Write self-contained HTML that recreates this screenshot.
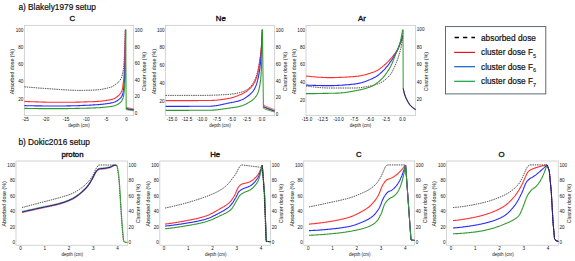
<!DOCTYPE html>
<html><head><meta charset="utf-8">
<style>
html,body{margin:0;padding:0;background:#fff;}
body{width:575px;height:261px;overflow:hidden;}
svg{display:block;font-family:"Liberation Sans", sans-serif;}
</style></head>
<body>
<svg width="575" height="261" viewBox="0 0 575 261">
<rect width="575" height="261" fill="#fff"/>
<text x="18.4" y="9.9" font-size="8.3" text-anchor="start" font-weight="normal" fill="#111" stroke="#111" stroke-width="0.2">a) Blakely1979 setup</text>
<text x="18.4" y="144.5" font-size="8.3" text-anchor="start" font-weight="normal" fill="#111" stroke="#111" stroke-width="0.2">b) Dokic2016 setup</text>
<rect x="24.4" y="25.4" width="109.19999999999999" height="90.19999999999999" fill="none" stroke="#cfcfcf" stroke-width="0.9"/>
<text x="72.2" y="21.2" font-size="7.8" text-anchor="middle" font-weight="normal" fill="#111" stroke="#111" stroke-width="0.35">C</text>
<text x="23.4" y="31.6" font-size="4.6" text-anchor="end" font-weight="normal" fill="#111">100</text>
<text x="23.4" y="48.6" font-size="4.6" text-anchor="end" font-weight="normal" fill="#111">80</text>
<text x="23.4" y="65.89999999999999" font-size="4.6" text-anchor="end" font-weight="normal" fill="#111">60</text>
<text x="23.4" y="83.3" font-size="4.6" text-anchor="end" font-weight="normal" fill="#111">40</text>
<text x="23.4" y="100.6" font-size="4.6" text-anchor="end" font-weight="normal" fill="#111">20</text>
<text x="134.79999999999998" y="31.900000000000002" font-size="4.6" text-anchor="start" font-weight="normal" fill="#111">100</text>
<text x="134.79999999999998" y="48.5" font-size="4.6" text-anchor="start" font-weight="normal" fill="#111">80</text>
<text x="134.79999999999998" y="65.1" font-size="4.6" text-anchor="start" font-weight="normal" fill="#111">60</text>
<text x="134.79999999999998" y="81.6" font-size="4.6" text-anchor="start" font-weight="normal" fill="#111">40</text>
<text x="134.79999999999998" y="98.39999999999999" font-size="4.6" text-anchor="start" font-weight="normal" fill="#111">20</text>
<text x="134.79999999999998" y="114.89999999999999" font-size="4.6" text-anchor="start" font-weight="normal" fill="#111">0</text>
<text x="25.6" y="121.19999999999999" font-size="4.6" text-anchor="middle" font-weight="normal" fill="#111">-25</text>
<text x="45.9" y="121.19999999999999" font-size="4.6" text-anchor="middle" font-weight="normal" fill="#111">-20</text>
<text x="66.1" y="121.19999999999999" font-size="4.6" text-anchor="middle" font-weight="normal" fill="#111">-15</text>
<text x="86.3" y="121.19999999999999" font-size="4.6" text-anchor="middle" font-weight="normal" fill="#111">-10</text>
<text x="106.4" y="121.19999999999999" font-size="4.6" text-anchor="middle" font-weight="normal" fill="#111">-5</text>
<text x="126.5" y="121.19999999999999" font-size="4.6" text-anchor="middle" font-weight="normal" fill="#111">0</text>
<text x="79.0" y="126.6" font-size="4.5" text-anchor="middle" font-weight="normal" fill="#111">depth (cm)</text>
<text x="14.499999999999998" y="71.6" font-size="5.3" text-anchor="middle" font-weight="normal" fill="#111" transform="rotate(-90 14.499999999999998 71.6)">Absorbed dose (%)</text>
<text x="146.0" y="71.6" font-size="5.3" text-anchor="middle" font-weight="normal" fill="#111" transform="rotate(-90 146.0 71.6)">Cluster dose (%)</text>
<path d="M24.4,86.8 25.0,86.9 25.6,86.9 26.2,87.0 26.8,87.0 27.4,87.1 28.1,87.1 28.7,87.2 29.3,87.2 29.9,87.3 30.5,87.3 31.1,87.4 31.7,87.4 32.3,87.5 32.9,87.5 33.5,87.6 34.2,87.6 34.8,87.7 35.4,87.7 36.0,87.8 36.6,87.8 37.2,87.9 37.8,87.9 38.4,88.0 39.0,88.0 39.6,88.1 40.2,88.1 40.9,88.2 41.5,88.2 42.1,88.3 42.7,88.3 43.3,88.3 43.9,88.4 44.5,88.4 45.1,88.5 45.7,88.5 46.3,88.6 47.0,88.6 47.6,88.6 48.2,88.7 48.8,88.7 49.4,88.8 50.0,88.8 50.6,88.8 51.2,88.9 51.8,88.9 52.4,89.0 53.0,89.0 53.6,89.0 54.2,89.1 54.8,89.1 55.4,89.2 56.0,89.2 56.6,89.3 57.2,89.3 57.8,89.3 58.4,89.4 59.0,89.4 59.6,89.5 60.2,89.5 60.8,89.6 61.4,89.6 62.0,89.6 62.6,89.7 63.2,89.7 63.8,89.8 64.4,89.8 65.0,89.8 65.6,89.9 66.2,89.9 66.8,90.0 67.4,90.0 68.0,90.0 68.6,90.1 69.2,90.1 69.8,90.1 70.4,90.1 71.0,90.2 71.6,90.2 72.2,90.2 72.8,90.3 73.4,90.3 74.0,90.3 74.6,90.3 75.2,90.3 75.8,90.3 76.4,90.4 77.0,90.4 77.6,90.4 78.2,90.4 78.8,90.4 79.4,90.4 80.0,90.4 80.6,90.4 81.2,90.4 81.8,90.4 82.4,90.4 83.0,90.4 83.6,90.4 84.2,90.4 84.8,90.4 85.4,90.3 86.0,90.3 86.6,90.3 87.2,90.3 87.8,90.3 88.4,90.3 89.0,90.2 89.6,90.2 90.2,90.2 90.8,90.2 91.4,90.2 92.0,90.1 92.6,90.1 93.2,90.1 93.8,90.1 94.4,90.0 95.0,90.0 95.6,90.0 96.2,89.9 96.8,89.9 97.4,89.8 98.0,89.8 98.6,89.7 99.2,89.6 99.8,89.6 100.4,89.5 101.0,89.4 101.6,89.3 102.2,89.2 102.8,89.1 103.4,89.0 104.0,88.9 104.6,88.7 105.2,88.6 105.8,88.5 106.4,88.3 107.0,88.2 107.6,88.0 108.2,87.9 108.8,87.7 109.4,87.6 110.0,87.4 110.6,87.2 111.3,87.0 111.9,86.7 112.5,86.3 113.2,86.0 113.8,85.6 114.5,85.2 115.1,84.7 115.7,84.3 116.4,83.8 117.0,83.3 117.7,82.8 118.3,82.2 119.0,81.5 119.7,80.7 120.3,79.8 121.0,78.7 121.5,77.6 121.8,76.9 122.0,76.1 122.2,75.2 122.5,74.2 122.8,73.1 123.0,71.8 123.1,71.1 123.2,70.2 123.4,69.3 123.5,68.2 123.6,67.4 123.7,66.5 123.8,65.6 123.8,64.7 123.9,63.7 124.0,62.6 124.1,61.6 124.1,60.6 124.2,59.3 124.2,58.4 124.3,57.3 124.4,56.2 124.4,55.1 124.4,54.1 124.5,53.2 124.5,52.2 124.6,51.2 124.6,50.2 124.6,49.2 124.7,48.1 124.7,47.1 124.8,46.0 124.8,45.0 124.8,43.9 124.9,42.8 124.9,41.6 125.0,40.7 125.0,39.7 125.0,38.8 125.0,37.8 125.1,36.8 125.1,35.8 125.1,34.8 125.2,33.8 125.2,32.8 125.2,31.7 125.3,30.7 125.3,29.6" fill="none" stroke="#1a1a1a" stroke-width="0.85" stroke-dasharray="1.4,0.9" stroke-linejoin="round"/>
<path d="M24.4,101.4 25.0,101.4 25.6,101.5 26.2,101.5 26.8,101.5 27.4,101.5 28.0,101.6 28.6,101.6 29.2,101.6 29.8,101.6 30.4,101.7 31.0,101.7 31.6,101.7 32.2,101.7 32.8,101.8 33.5,101.8 34.1,101.8 34.7,101.8 35.3,101.9 35.9,101.9 36.5,101.9 37.1,101.9 37.7,101.9 38.3,102.0 38.9,102.0 39.5,102.0 40.1,102.0 40.7,102.0 41.3,102.0 41.9,102.1 42.5,102.1 43.1,102.1 43.7,102.1 44.3,102.1 44.9,102.1 45.5,102.1 46.1,102.2 46.7,102.2 47.3,102.2 47.9,102.2 48.5,102.2 49.1,102.2 49.7,102.2 50.3,102.2 50.9,102.2 51.6,102.2 52.2,102.3 52.8,102.3 53.4,102.3 54.0,102.3 54.6,102.3 55.2,102.3 55.8,102.3 56.4,102.3 57.0,102.3 57.6,102.3 58.2,102.3 58.8,102.3 59.4,102.3 60.0,102.3 60.6,102.3 61.2,102.3 61.8,102.3 62.4,102.3 63.0,102.3 63.6,102.3 64.2,102.3 64.8,102.3 65.4,102.3 66.0,102.3 66.6,102.3 67.2,102.3 67.8,102.3 68.5,102.3 69.1,102.2 69.7,102.2 70.3,102.2 70.9,102.2 71.5,102.2 72.1,102.2 72.7,102.2 73.3,102.2 73.9,102.2 74.5,102.2 75.1,102.2 75.7,102.1 76.3,102.1 76.9,102.1 77.5,102.1 78.1,102.1 78.7,102.1 79.3,102.1 79.9,102.1 80.5,102.0 81.1,102.0 81.7,102.0 82.3,102.0 82.9,102.0 83.5,102.0 84.2,101.9 84.8,101.9 85.4,101.9 86.0,101.9 86.6,101.9 87.2,101.9 87.8,101.8 88.4,101.8 89.0,101.8 89.6,101.8 90.2,101.8 90.8,101.7 91.4,101.7 92.0,101.7 92.6,101.7 93.2,101.7 93.8,101.6 94.4,101.6 95.0,101.6 95.6,101.5 96.2,101.5 96.8,101.5 97.5,101.4 98.1,101.4 98.7,101.3 99.3,101.3 99.9,101.2 100.5,101.2 101.1,101.1 101.7,101.0 102.3,101.0 102.9,100.9 103.5,100.8 104.1,100.8 104.7,100.7 105.3,100.6 105.9,100.5 106.5,100.4 107.2,100.3 107.8,100.2 108.4,100.1 109.0,100.0 109.6,99.9 110.2,99.8 110.8,99.7 111.4,99.5 112.0,99.4 112.6,99.2 113.2,99.0 113.8,98.8 114.4,98.5 115.0,98.2 115.6,97.8 116.2,97.4 116.8,97.0 117.4,96.5 118.0,96.0 118.7,95.4 119.3,94.8 120.0,94.0 120.7,93.0 121.0,92.4 121.3,91.7 121.7,91.0 122.0,90.2 122.2,89.6 122.4,88.8 122.6,87.9 122.8,86.8 122.9,85.9 123.0,85.0 123.1,84.1 123.2,83.1 123.4,82.1 123.5,81.0 123.6,80.2 123.7,79.4 123.8,78.6 123.8,77.6 123.9,76.6 124.0,75.5 124.1,74.7 124.1,73.7 124.2,72.8 124.2,71.7 124.3,70.6 124.4,69.5 124.4,68.3 124.5,67.0 124.5,66.2 124.6,65.2 124.6,64.1 124.7,63.0 124.7,62.0 124.7,61.0 124.7,59.9 124.8,58.8 124.8,57.6 124.8,56.7 124.8,55.7 124.9,54.6 124.9,53.6 124.9,52.5 124.9,51.5 125.0,50.4 125.0,49.3 125.0,48.2 125.0,47.2 125.1,46.1 125.1,45.0 125.1,43.9 125.1,42.8 125.2,41.6 125.2,40.7 125.2,39.8 125.2,38.9 125.2,37.9 125.3,37.0 125.3,36.0 125.3,35.0 125.3,34.0 125.3,33.0 125.4,32.0 125.4,31.0 125.4,30.0" fill="none" stroke="#ff3030" stroke-width="1.1" stroke-linejoin="round"/>
<path d="M24.4,105.6 25.0,105.6 25.6,105.6 26.2,105.7 26.8,105.7 27.4,105.7 28.0,105.7 28.6,105.7 29.2,105.7 29.8,105.8 30.4,105.8 31.0,105.8 31.6,105.8 32.2,105.8 32.8,105.8 33.5,105.8 34.1,105.8 34.7,105.9 35.3,105.9 35.9,105.9 36.5,105.9 37.1,105.9 37.7,105.9 38.3,105.9 38.9,105.9 39.5,105.9 40.1,105.9 40.7,105.9 41.3,105.9 41.9,105.9 42.5,106.0 43.1,106.0 43.7,106.0 44.3,106.0 44.9,106.0 45.5,106.0 46.1,106.0 46.7,106.0 47.3,106.0 47.9,106.0 48.5,106.0 49.1,106.0 49.7,106.0 50.3,106.0 50.9,106.0 51.6,106.0 52.2,106.0 52.8,106.0 53.4,106.0 54.0,106.0 54.6,106.0 55.2,106.0 55.8,106.0 56.4,106.0 57.0,106.0 57.6,106.0 58.2,106.0 58.8,106.0 59.4,106.0 60.0,106.0 60.6,106.0 61.2,106.0 61.8,106.0 62.4,106.0 63.0,106.0 63.6,106.0 64.2,106.0 64.8,106.0 65.4,106.0 66.0,106.0 66.6,105.9 67.2,105.9 67.8,105.9 68.5,105.9 69.1,105.9 69.7,105.9 70.3,105.9 70.9,105.9 71.5,105.8 72.1,105.8 72.7,105.8 73.3,105.8 73.9,105.8 74.5,105.8 75.1,105.7 75.7,105.7 76.3,105.7 76.9,105.7 77.5,105.7 78.1,105.6 78.7,105.6 79.3,105.6 79.9,105.6 80.5,105.5 81.1,105.5 81.7,105.5 82.3,105.5 82.9,105.4 83.5,105.4 84.2,105.4 84.8,105.4 85.4,105.3 86.0,105.3 86.6,105.3 87.2,105.2 87.8,105.2 88.4,105.2 89.0,105.2 89.6,105.1 90.2,105.1 90.8,105.1 91.4,105.0 92.0,105.0 92.6,105.0 93.2,104.9 93.8,104.9 94.4,104.9 95.0,104.8 95.6,104.8 96.2,104.8 96.8,104.7 97.5,104.7 98.1,104.6 98.7,104.6 99.3,104.5 99.9,104.5 100.5,104.4 101.1,104.4 101.7,104.3 102.3,104.2 102.9,104.2 103.5,104.1 104.1,104.0 104.7,104.0 105.3,103.9 105.9,103.8 106.5,103.7 107.2,103.6 107.8,103.5 108.4,103.5 109.0,103.4 109.6,103.2 110.2,103.1 110.8,103.0 111.4,102.9 112.0,102.8 112.6,102.7 113.3,102.5 113.9,102.3 114.5,102.0 115.2,101.7 115.8,101.4 116.5,101.1 117.1,100.7 117.7,100.3 118.4,99.9 119.0,99.4 119.7,98.9 120.4,98.2 121.1,97.4 121.8,96.3 122.2,95.6 122.5,94.8 122.7,94.3 122.9,93.5 123.1,92.6 123.2,91.5 123.4,90.6 123.5,89.8 123.6,88.8 123.8,87.8 123.9,86.7 124.0,85.6 124.1,84.8 124.2,84.0 124.2,83.1 124.3,82.1 124.4,81.1 124.5,79.9 124.6,78.9 124.6,77.9 124.7,76.7 124.8,75.5 124.8,74.4 124.8,73.3 124.9,72.1 125.0,70.9 125.0,69.5 125.0,68.8 125.0,67.9 125.1,66.9 125.1,65.9 125.1,65.0 125.1,64.0 125.2,62.9 125.2,61.8 125.2,60.6 125.2,59.6 125.2,58.5 125.2,57.3 125.3,56.2 125.3,54.9 125.3,53.6 125.3,52.7 125.3,51.6 125.3,50.6 125.4,49.5 125.4,48.4 125.4,47.3 125.4,46.2 125.4,45.0 125.4,44.1 125.4,43.2 125.4,42.1 125.4,41.2 125.4,40.3 125.4,39.4 125.5,38.4 125.5,37.4 125.5,36.4 125.5,35.3 125.5,34.3 125.5,33.2 125.5,32.1 125.5,31.1 125.5,30.0" fill="none" stroke="#2a2aff" stroke-width="1.1" stroke-linejoin="round"/>
<path d="M24.4,108.4 25.0,108.4 25.6,108.4 26.2,108.4 26.8,108.4 27.4,108.4 28.0,108.5 28.6,108.5 29.2,108.5 29.8,108.5 30.4,108.5 31.0,108.5 31.6,108.5 32.2,108.5 32.8,108.5 33.5,108.5 34.1,108.5 34.7,108.5 35.3,108.5 35.9,108.5 36.5,108.5 37.1,108.5 37.7,108.6 38.3,108.6 38.9,108.6 39.5,108.6 40.1,108.6 40.7,108.6 41.3,108.6 41.9,108.6 42.5,108.6 43.1,108.6 43.7,108.6 44.3,108.6 44.9,108.6 45.5,108.6 46.1,108.6 46.7,108.6 47.3,108.6 47.9,108.6 48.5,108.6 49.1,108.6 49.7,108.6 50.3,108.6 50.9,108.6 51.6,108.6 52.2,108.6 52.8,108.6 53.4,108.6 54.0,108.6 54.6,108.6 55.2,108.6 55.8,108.6 56.4,108.6 57.0,108.6 57.6,108.6 58.2,108.6 58.8,108.6 59.4,108.6 60.0,108.6 60.6,108.6 61.2,108.6 61.8,108.6 62.4,108.6 63.0,108.6 63.6,108.6 64.2,108.6 64.8,108.6 65.4,108.6 66.0,108.6 66.6,108.6 67.2,108.6 67.8,108.6 68.5,108.5 69.1,108.5 69.7,108.5 70.3,108.5 70.9,108.5 71.5,108.5 72.1,108.5 72.7,108.5 73.3,108.5 73.9,108.5 74.5,108.5 75.1,108.4 75.7,108.4 76.3,108.4 76.9,108.4 77.5,108.4 78.1,108.4 78.7,108.4 79.3,108.4 79.9,108.3 80.5,108.3 81.1,108.3 81.7,108.3 82.3,108.3 82.9,108.3 83.5,108.3 84.2,108.2 84.8,108.2 85.4,108.2 86.0,108.2 86.6,108.2 87.2,108.1 87.8,108.1 88.4,108.1 89.0,108.1 89.6,108.1 90.2,108.1 90.8,108.0 91.4,108.0 92.0,108.0 92.6,108.0 93.2,108.0 93.8,107.9 94.4,107.9 95.0,107.9 95.6,107.9 96.2,107.8 96.8,107.8 97.5,107.8 98.1,107.7 98.7,107.7 99.3,107.7 99.9,107.6 100.5,107.6 101.1,107.5 101.7,107.5 102.3,107.4 102.9,107.4 103.5,107.3 104.1,107.3 104.7,107.2 105.3,107.2 105.9,107.1 106.5,107.0 107.2,107.0 107.8,106.9 108.4,106.8 109.0,106.7 109.6,106.7 110.2,106.6 110.8,106.5 111.4,106.4 112.0,106.3 112.6,106.2 113.2,106.1 113.8,105.9 114.5,105.7 115.1,105.5 115.7,105.3 116.3,105.0 116.9,104.7 117.5,104.4 118.2,104.0 118.8,103.7 119.4,103.2 120.0,102.8 120.6,102.3 121.2,101.6 121.8,100.7 122.4,99.5 122.7,98.8 123.0,98.0 123.2,97.4 123.4,96.6 123.6,95.6 123.8,94.5 123.9,93.6 124.0,92.6 124.1,91.6 124.2,90.5 124.4,89.3 124.5,88.0 124.6,86.9 124.7,85.6 124.8,84.7 124.8,83.7 124.9,82.5 125.0,81.5 125.0,80.5 125.0,79.3 125.1,78.0 125.1,77.1 125.2,76.2 125.2,75.2 125.2,74.1 125.3,73.0 125.3,71.8 125.3,71.0 125.3,70.1 125.4,69.0 125.4,67.7 125.4,66.8 125.4,65.9 125.4,64.8 125.4,63.8 125.4,62.6 125.4,61.5 125.5,60.4 125.5,59.4 125.5,58.3 125.5,57.2 125.5,56.0 125.5,54.8 125.5,53.7 125.5,52.6 125.5,51.6 125.6,50.5 125.6,49.4 125.6,48.3 125.6,47.2 125.6,46.1 125.6,45.0 125.6,44.0 125.6,42.9 125.6,41.7 125.6,40.8 125.6,39.9 125.6,38.9 125.7,37.9 125.7,36.9 125.7,35.9 125.7,34.9 125.7,33.8 125.7,32.8 125.7,31.7 125.7,30.7 125.7,29.6" fill="none" stroke="#2f9a2f" stroke-width="1.1" stroke-linejoin="round"/>
<path d="M126.3,107.3 127.0,107.5 127.7,107.7 128.3,107.9 129.0,108.0 129.7,108.2 130.3,108.3 131.0,108.4 131.6,108.6 132.3,108.7 132.9,108.8 133.6,108.9" fill="none" stroke="#ff3030" stroke-width="0.9" stroke-linejoin="round"/>
<path d="M126.3,108.3 127.0,108.5 127.7,108.6 128.3,108.8 129.0,108.9 129.7,109.1 130.3,109.2 131.0,109.3 131.6,109.4 132.3,109.5 132.9,109.6 133.6,109.7" fill="none" stroke="#2a2aff" stroke-width="0.9" stroke-linejoin="round"/>
<path d="M126.3,108.8 127.0,109.0 127.7,109.1 128.3,109.3 129.0,109.4 129.7,109.5 130.3,109.6 131.0,109.7 131.6,109.8 132.3,109.9 132.9,110.0 133.6,110.1" fill="none" stroke="#1a1a1a" stroke-width="0.9" stroke-linejoin="round"/>
<path d="M126.3,109.6 127.0,109.7 127.7,109.9 128.3,110.0 129.0,110.1 129.7,110.2 130.3,110.3 131.0,110.4 131.6,110.5 132.3,110.6 132.9,110.6 133.6,110.7" fill="none" stroke="#2f9a2f" stroke-width="0.9" stroke-linejoin="round"/>
<path d="M125.70,29.60 L126.20,109.60" fill="none" stroke="#2f9a2f" stroke-width="1.0" stroke-linejoin="round"/>
<rect x="165.6" y="25.4" width="109.00000000000003" height="90.19999999999999" fill="none" stroke="#cfcfcf" stroke-width="0.9"/>
<text x="220.8" y="21.2" font-size="7.8" text-anchor="middle" font-weight="normal" fill="#111" stroke="#111" stroke-width="0.35">Ne</text>
<text x="164.6" y="31.6" font-size="4.6" text-anchor="end" font-weight="normal" fill="#111">100</text>
<text x="164.6" y="49.4" font-size="4.6" text-anchor="end" font-weight="normal" fill="#111">80</text>
<text x="164.6" y="67.19999999999999" font-size="4.6" text-anchor="end" font-weight="normal" fill="#111">60</text>
<text x="164.6" y="85.0" font-size="4.6" text-anchor="end" font-weight="normal" fill="#111">40</text>
<text x="164.6" y="102.6" font-size="4.6" text-anchor="end" font-weight="normal" fill="#111">20</text>
<text x="275.8" y="31.900000000000002" font-size="4.6" text-anchor="start" font-weight="normal" fill="#111">100</text>
<text x="275.8" y="48.800000000000004" font-size="4.6" text-anchor="start" font-weight="normal" fill="#111">80</text>
<text x="275.8" y="65.69999999999999" font-size="4.6" text-anchor="start" font-weight="normal" fill="#111">60</text>
<text x="275.8" y="82.6" font-size="4.6" text-anchor="start" font-weight="normal" fill="#111">40</text>
<text x="275.8" y="99.19999999999999" font-size="4.6" text-anchor="start" font-weight="normal" fill="#111">20</text>
<text x="275.8" y="115.89999999999999" font-size="4.6" text-anchor="start" font-weight="normal" fill="#111">0</text>
<text x="172" y="121.0" font-size="4.6" text-anchor="middle" font-weight="normal" fill="#111">-15.0</text>
<text x="187" y="121.0" font-size="4.6" text-anchor="middle" font-weight="normal" fill="#111">-12.5</text>
<text x="202" y="121.0" font-size="4.6" text-anchor="middle" font-weight="normal" fill="#111">-10.0</text>
<text x="217" y="121.0" font-size="4.6" text-anchor="middle" font-weight="normal" fill="#111">-7.5</text>
<text x="232" y="121.0" font-size="4.6" text-anchor="middle" font-weight="normal" fill="#111">-5.0</text>
<text x="247" y="121.0" font-size="4.6" text-anchor="middle" font-weight="normal" fill="#111">-2.5</text>
<text x="262" y="121.0" font-size="4.6" text-anchor="middle" font-weight="normal" fill="#111">0.0</text>
<text x="220.0" y="126.6" font-size="4.5" text-anchor="middle" font-weight="normal" fill="#111">depth (cm)</text>
<text x="155.7" y="71.6" font-size="5.3" text-anchor="middle" font-weight="normal" fill="#111" transform="rotate(-90 155.7 71.6)">Absorbed dose (%)</text>
<text x="287.0" y="71.6" font-size="5.3" text-anchor="middle" font-weight="normal" fill="#111" transform="rotate(-90 287.0 71.6)">Cluster dose (%)</text>
<path d="M165.6,95.4 166.2,95.4 166.8,95.4 167.4,95.4 168.0,95.4 168.6,95.4 169.2,95.4 169.8,95.4 170.4,95.4 171.0,95.4 171.6,95.4 172.2,95.4 172.8,95.4 173.4,95.4 174.0,95.4 174.7,95.4 175.3,95.4 175.9,95.4 176.5,95.4 177.1,95.4 177.7,95.4 178.3,95.4 178.9,95.4 179.5,95.4 180.1,95.4 180.7,95.4 181.3,95.4 181.9,95.4 182.5,95.4 183.1,95.4 183.7,95.4 184.3,95.4 184.9,95.4 185.5,95.4 186.1,95.4 186.7,95.4 187.3,95.4 187.9,95.4 188.5,95.4 189.1,95.4 189.7,95.4 190.3,95.4 190.9,95.4 191.6,95.4 192.2,95.4 192.8,95.4 193.4,95.4 194.0,95.4 194.6,95.4 195.2,95.4 195.8,95.4 196.4,95.4 197.0,95.4 197.6,95.4 198.2,95.4 198.8,95.4 199.4,95.4 200.0,95.4 200.6,95.4 201.2,95.4 201.8,95.4 202.4,95.4 203.0,95.4 203.6,95.4 204.2,95.4 204.8,95.4 205.4,95.4 206.0,95.4 206.6,95.3 207.2,95.3 207.8,95.3 208.4,95.3 209.0,95.3 209.6,95.3 210.2,95.3 210.8,95.2 211.4,95.2 212.0,95.2 212.6,95.2 213.2,95.2 213.8,95.2 214.4,95.1 215.0,95.1 215.6,95.1 216.2,95.1 216.8,95.0 217.4,95.0 218.0,95.0 218.6,95.0 219.2,94.9 219.8,94.9 220.4,94.9 221.0,94.8 221.6,94.8 222.2,94.8 222.8,94.7 223.4,94.7 224.0,94.7 224.6,94.6 225.2,94.6 225.8,94.6 226.4,94.5 227.0,94.5 227.6,94.5 228.2,94.4 228.8,94.4 229.4,94.3 230.0,94.3 230.6,94.3 231.2,94.2 231.9,94.1 232.5,94.0 233.1,94.0 233.8,93.9 234.4,93.8 235.0,93.6 235.6,93.5 236.2,93.4 236.9,93.3 237.5,93.1 238.1,93.0 238.8,92.8 239.4,92.7 240.0,92.5 240.6,92.3 241.2,92.2 241.8,92.0 242.5,91.7 243.1,91.5 243.7,91.3 244.3,91.0 244.9,90.7 245.5,90.4 246.2,90.1 246.8,89.8 247.4,89.4 248.0,89.0 248.6,88.5 249.2,88.0 249.9,87.4 250.5,86.7 251.1,86.0 251.8,85.1 252.4,84.2 253.0,83.3 253.7,82.2 254.0,81.6 254.3,80.9 254.7,80.2 255.0,79.5 255.3,78.7 255.7,77.8 256.0,76.9 256.3,76.0 256.7,75.0 257.0,74.0 257.3,73.0 257.6,71.8 257.8,71.0 258.0,70.1 258.2,69.2 258.5,68.2 258.7,67.2 258.9,66.1 259.1,65.0 259.3,63.8 259.5,62.6 259.6,61.7 259.8,60.8 259.9,59.8 260.1,58.8 260.2,57.7 260.4,56.6 260.5,55.7 260.6,54.7 260.7,53.7 260.8,52.7 260.9,51.6 261.0,50.4 261.1,49.3 261.2,48.0 261.3,46.9 261.4,45.8 261.4,44.5 261.5,43.4 261.6,42.4 261.6,41.2 261.7,40.1 261.8,39.1 261.8,38.1 261.8,37.1 261.9,36.1 261.9,35.1 262.0,34.0 262.1,33.0 262.1,31.9 262.1,30.8 262.2,29.7" fill="none" stroke="#1a1a1a" stroke-width="0.85" stroke-dasharray="1.4,0.9" stroke-linejoin="round"/>
<path d="M165.6,100.6 166.2,100.6 166.8,100.6 167.4,100.6 168.0,100.6 168.6,100.6 169.2,100.6 169.8,100.6 170.4,100.6 171.0,100.6 171.6,100.6 172.2,100.6 172.8,100.6 173.4,100.6 174.0,100.6 174.6,100.6 175.2,100.6 175.8,100.6 176.4,100.6 177.0,100.6 177.6,100.6 178.2,100.6 178.8,100.6 179.4,100.6 180.0,100.6 180.6,100.6 181.2,100.6 181.8,100.6 182.4,100.6 183.0,100.6 183.6,100.6 184.2,100.6 184.8,100.6 185.4,100.6 186.0,100.6 186.6,100.6 187.2,100.6 187.8,100.6 188.4,100.6 189.0,100.6 189.6,100.6 190.2,100.6 190.8,100.6 191.4,100.6 192.0,100.6 192.6,100.6 193.2,100.6 193.8,100.6 194.4,100.6 195.0,100.6 195.6,100.6 196.2,100.6 196.8,100.6 197.4,100.6 198.0,100.6 198.6,100.5 199.2,100.5 199.8,100.5 200.4,100.5 201.0,100.5 201.6,100.5 202.2,100.5 202.8,100.5 203.4,100.5 204.0,100.5 204.6,100.5 205.2,100.5 205.8,100.5 206.4,100.5 207.0,100.5 207.6,100.5 208.2,100.5 208.8,100.5 209.4,100.5 210.0,100.5 210.6,100.5 211.2,100.5 211.8,100.5 212.4,100.4 213.0,100.4 213.6,100.4 214.2,100.3 214.8,100.3 215.5,100.3 216.1,100.2 216.7,100.2 217.3,100.1 217.9,100.0 218.5,100.0 219.1,99.9 219.7,99.8 220.3,99.8 220.9,99.7 221.5,99.6 222.1,99.5 222.7,99.4 223.3,99.3 223.9,99.2 224.5,99.1 225.2,99.0 225.8,98.9 226.4,98.8 227.0,98.7 227.6,98.6 228.2,98.5 228.8,98.4 229.4,98.3 230.0,98.2 230.6,98.1 231.2,97.9 231.9,97.8 232.5,97.6 233.1,97.4 233.8,97.2 234.4,97.0 235.0,96.8 235.6,96.6 236.2,96.3 236.9,96.1 237.5,95.9 238.1,95.6 238.8,95.3 239.4,95.1 240.0,94.8 240.6,94.5 241.2,94.3 241.8,94.0 242.5,93.7 243.1,93.3 243.7,93.0 244.3,92.7 244.9,92.3 245.5,91.9 246.2,91.5 246.8,91.1 247.4,90.7 248.0,90.2 248.6,89.7 249.2,89.2 249.8,88.7 250.4,88.1 251.0,87.4 251.6,86.7 252.2,86.0 252.8,85.1 253.4,84.3 254.0,83.3 254.3,82.7 254.7,82.0 255.1,81.3 255.4,80.4 255.8,79.6 256.1,78.6 256.5,77.6 256.8,76.5 257.0,75.7 257.3,74.9 257.5,74.0 257.8,73.0 258.0,71.8 258.2,70.9 258.3,70.0 258.5,69.0 258.7,68.0 258.8,67.0 259.0,65.9 259.2,64.8 259.3,63.7 259.5,62.6 259.6,61.6 259.8,60.6 259.9,59.6 260.1,58.6 260.2,57.5 260.4,56.4 260.5,55.5 260.6,54.6 260.7,53.7 260.9,52.7 261.0,51.6 261.1,50.5 261.2,49.3 261.3,48.0 261.4,47.0 261.5,45.8 261.6,44.5 261.6,43.5 261.7,42.4 261.7,41.3 261.8,40.1 261.9,39.2 261.9,38.2 261.9,37.2 262.0,36.1 262.1,35.1 262.1,34.0 262.2,33.0 262.2,31.9 262.2,30.8 262.3,29.7" fill="none" stroke="#ff3030" stroke-width="1.1" stroke-linejoin="round"/>
<path d="M165.6,106.4 166.2,106.4 166.8,106.4 167.4,106.4 168.0,106.4 168.6,106.4 169.2,106.4 169.8,106.4 170.4,106.4 171.0,106.4 171.6,106.4 172.2,106.4 172.8,106.4 173.4,106.4 174.0,106.4 174.6,106.4 175.2,106.4 175.8,106.4 176.4,106.4 177.0,106.4 177.6,106.4 178.2,106.4 178.8,106.4 179.4,106.4 180.0,106.4 180.6,106.4 181.2,106.4 181.8,106.4 182.4,106.4 183.0,106.4 183.6,106.4 184.2,106.4 184.8,106.4 185.4,106.4 186.0,106.4 186.6,106.4 187.2,106.4 187.8,106.4 188.4,106.4 189.0,106.4 189.6,106.3 190.2,106.3 190.8,106.3 191.4,106.3 192.0,106.3 192.6,106.3 193.2,106.3 193.8,106.3 194.4,106.3 195.0,106.3 195.6,106.3 196.2,106.3 196.8,106.3 197.4,106.3 198.0,106.3 198.6,106.3 199.2,106.3 199.8,106.3 200.4,106.3 201.0,106.3 201.6,106.3 202.2,106.3 202.8,106.3 203.4,106.3 204.0,106.3 204.6,106.2 205.2,106.2 205.8,106.2 206.4,106.2 207.0,106.2 207.6,106.2 208.2,106.2 208.8,106.2 209.4,106.2 210.0,106.2 210.6,106.2 211.2,106.2 211.8,106.1 212.4,106.1 213.0,106.0 213.6,106.0 214.2,105.9 214.8,105.8 215.5,105.8 216.1,105.7 216.7,105.6 217.3,105.5 217.9,105.4 218.5,105.3 219.1,105.2 219.7,105.0 220.3,104.9 220.9,104.8 221.5,104.7 222.1,104.5 222.7,104.4 223.3,104.3 223.9,104.1 224.5,104.0 225.2,103.8 225.8,103.7 226.4,103.6 227.0,103.4 227.6,103.3 228.2,103.2 228.8,103.0 229.4,102.9 230.0,102.8 230.6,102.7 231.2,102.6 231.9,102.4 232.5,102.3 233.1,102.2 233.8,102.1 234.4,101.9 235.0,101.8 235.6,101.7 236.2,101.5 236.9,101.4 237.5,101.2 238.1,101.1 238.8,100.9 239.4,100.7 240.0,100.5 240.6,100.3 241.2,100.0 241.8,99.8 242.5,99.5 243.1,99.2 243.7,98.9 244.3,98.5 244.9,98.1 245.5,97.7 246.2,97.3 246.8,96.9 247.4,96.5 248.0,96.0 248.6,95.5 249.3,95.0 249.9,94.5 250.5,93.9 251.2,93.2 251.8,92.6 252.5,91.8 253.1,91.0 253.7,90.1 254.4,89.1 255.0,88.0 255.3,87.3 255.7,86.5 256.0,85.6 256.4,84.6 256.8,83.4 257.1,82.2 257.3,81.3 257.6,80.4 257.8,79.5 258.0,78.5 258.3,77.5 258.5,76.4 258.7,75.6 258.8,74.7 259.0,73.8 259.2,72.8 259.3,71.8 259.5,70.7 259.6,69.8 259.8,68.9 259.9,67.9 260.0,67.0 260.1,65.9 260.2,64.9 260.4,63.8 260.5,62.6 260.6,61.7 260.7,60.8 260.8,59.7 260.9,58.7 261.0,57.5 261.1,56.4 261.1,55.4 261.2,54.5 261.3,53.5 261.3,52.4 261.4,51.4 261.5,50.3 261.5,49.2 261.6,48.0 261.7,47.1 261.7,46.2 261.8,45.2 261.8,44.2 261.9,43.2 261.9,42.1 261.9,41.0 262.0,39.8 262.0,38.9 262.1,37.9 262.1,37.0 262.2,36.0 262.2,34.9 262.2,33.9 262.3,32.9 262.3,31.8 262.4,30.8 262.4,29.7" fill="none" stroke="#2a2aff" stroke-width="1.1" stroke-linejoin="round"/>
<path d="M165.6,110.4 166.2,110.4 166.8,110.4 167.4,110.4 168.0,110.4 168.6,110.4 169.2,110.4 169.8,110.4 170.4,110.4 171.0,110.4 171.6,110.4 172.2,110.4 172.8,110.4 173.4,110.4 174.0,110.4 174.6,110.4 175.2,110.4 175.8,110.4 176.4,110.4 177.0,110.4 177.6,110.4 178.2,110.4 178.8,110.4 179.4,110.4 180.0,110.4 180.6,110.4 181.2,110.4 181.8,110.4 182.4,110.4 183.0,110.4 183.6,110.4 184.2,110.4 184.8,110.4 185.4,110.4 186.0,110.4 186.6,110.4 187.2,110.4 187.8,110.4 188.4,110.4 189.0,110.3 189.6,110.3 190.2,110.3 190.8,110.3 191.4,110.3 192.0,110.3 192.6,110.3 193.2,110.3 193.8,110.3 194.4,110.3 195.0,110.3 195.6,110.3 196.2,110.3 196.8,110.3 197.4,110.3 198.0,110.3 198.6,110.3 199.2,110.3 199.8,110.3 200.4,110.3 201.0,110.3 201.6,110.3 202.2,110.3 202.8,110.3 203.4,110.3 204.0,110.3 204.6,110.2 205.2,110.2 205.8,110.2 206.4,110.2 207.0,110.2 207.6,110.2 208.2,110.2 208.8,110.2 209.4,110.2 210.0,110.2 210.6,110.2 211.2,110.2 211.8,110.2 212.4,110.1 213.0,110.1 213.6,110.1 214.2,110.0 214.8,110.0 215.5,109.9 216.1,109.9 216.7,109.8 217.3,109.7 217.9,109.7 218.5,109.6 219.1,109.5 219.7,109.5 220.3,109.4 220.9,109.3 221.5,109.2 222.1,109.1 222.7,109.0 223.3,109.0 223.9,108.9 224.5,108.8 225.2,108.7 225.8,108.6 226.4,108.5 227.0,108.4 227.6,108.3 228.2,108.3 228.8,108.2 229.4,108.1 230.0,108.0 230.6,107.9 231.2,107.8 231.9,107.7 232.5,107.7 233.1,107.6 233.8,107.5 234.4,107.4 235.0,107.3 235.6,107.2 236.2,107.1 236.9,107.0 237.5,106.9 238.1,106.7 238.8,106.6 239.4,106.5 240.0,106.3 240.6,106.1 241.2,106.0 241.9,105.8 242.5,105.5 243.1,105.3 243.8,105.0 244.4,104.8 245.0,104.5 245.6,104.2 246.2,103.9 246.9,103.5 247.5,103.2 248.1,102.8 248.8,102.5 249.4,102.1 250.0,101.7 250.6,101.3 251.3,100.9 251.9,100.4 252.5,100.0 253.2,99.4 253.8,98.9 254.5,98.2 255.1,97.5 255.7,96.7 256.4,95.8 257.0,94.8 257.4,94.2 257.7,93.4 258.0,92.5 258.4,91.4 258.6,90.6 258.9,89.7 259.1,88.8 259.3,87.7 259.6,86.6 259.8,85.3 260.0,84.3 260.1,83.3 260.3,82.2 260.5,81.0 260.6,80.0 260.8,78.8 260.8,77.9 260.9,76.9 261.0,75.7 261.1,74.8 261.1,73.9 261.2,72.9 261.2,71.8 261.3,70.7 261.4,69.5 261.4,68.3 261.5,67.0 261.5,66.1 261.6,65.0 261.6,63.8 261.7,62.9 261.7,61.9 261.7,60.9 261.8,59.8 261.8,58.6 261.8,57.5 261.8,56.3 261.9,55.1 261.9,54.1 261.9,53.1 261.9,52.0 262.0,51.0 262.0,50.0 262.0,49.0 262.1,47.9 262.1,46.8 262.1,45.6 262.1,44.7 262.1,43.7 262.2,42.7 262.2,41.7 262.2,40.7 262.2,39.7 262.2,38.6 262.3,37.6 262.3,36.5 262.3,35.4 262.3,34.3 262.3,33.1 262.4,32.0 262.4,30.9 262.4,29.7" fill="none" stroke="#2f9a2f" stroke-width="1.1" stroke-linejoin="round"/>
<path d="M263.6,104.7 264.2,105.1 264.8,105.5 265.4,105.9 266.0,106.2 266.7,106.5 267.3,106.8 268.0,107.1 268.7,107.4 269.3,107.7 270.0,108.0 270.7,108.2 271.3,108.5 272.0,108.7 272.6,109.0 273.3,109.2 273.9,109.5 274.6,109.7" fill="none" stroke="#ff3030" stroke-width="0.9" stroke-linejoin="round"/>
<path d="M263.6,106.2 264.2,106.6 264.8,106.9 265.4,107.3 266.0,107.6 266.7,107.9 267.3,108.2 268.0,108.4 268.7,108.7 269.3,108.9 270.0,109.2 270.7,109.4 271.3,109.7 272.0,109.9 272.6,110.1 273.3,110.4 273.9,110.6 274.6,110.8" fill="none" stroke="#2a2aff" stroke-width="0.9" stroke-linejoin="round"/>
<path d="M263.6,106.8 264.2,107.2 264.8,107.5 265.4,107.8 266.0,108.1 266.7,108.4 267.3,108.7 268.0,108.9 268.7,109.2 269.3,109.4 270.0,109.7 270.7,109.9 271.3,110.1 272.0,110.3 272.6,110.6 273.3,110.8 273.9,111.0 274.6,111.2" fill="none" stroke="#1a1a1a" stroke-width="0.9" stroke-linejoin="round"/>
<path d="M263.6,108.3 264.2,108.6 264.8,108.9 265.4,109.2 266.0,109.4 266.7,109.7 267.3,109.9 268.0,110.1 268.7,110.3 269.3,110.5 270.0,110.7 270.7,110.9 271.3,111.1 272.0,111.3 272.6,111.5 273.3,111.7 273.9,111.8 274.6,112.0" fill="none" stroke="#2f9a2f" stroke-width="0.9" stroke-linejoin="round"/>
<path d="M262.50,29.70 L263.40,108.30" fill="none" stroke="#2f9a2f" stroke-width="1.0" stroke-linejoin="round"/>
<rect x="306.0" y="25.4" width="109.60000000000002" height="90.19999999999999" fill="none" stroke="#cfcfcf" stroke-width="0.9"/>
<text x="362.0" y="21.4" font-size="7.8" text-anchor="middle" font-weight="normal" fill="#111" stroke="#111" stroke-width="0.35">Ar</text>
<text x="305.0" y="31.6" font-size="4.6" text-anchor="end" font-weight="normal" fill="#111">100</text>
<text x="305.0" y="49.0" font-size="4.6" text-anchor="end" font-weight="normal" fill="#111">80</text>
<text x="305.0" y="66.39999999999999" font-size="4.6" text-anchor="end" font-weight="normal" fill="#111">60</text>
<text x="305.0" y="84.0" font-size="4.6" text-anchor="end" font-weight="normal" fill="#111">40</text>
<text x="305.0" y="101.6" font-size="4.6" text-anchor="end" font-weight="normal" fill="#111">20</text>
<text x="416.8" y="31.400000000000002" font-size="4.6" text-anchor="start" font-weight="normal" fill="#111">100</text>
<text x="416.8" y="48.800000000000004" font-size="4.6" text-anchor="start" font-weight="normal" fill="#111">80</text>
<text x="416.8" y="66.19999999999999" font-size="4.6" text-anchor="start" font-weight="normal" fill="#111">60</text>
<text x="416.8" y="83.8" font-size="4.6" text-anchor="start" font-weight="normal" fill="#111">40</text>
<text x="416.8" y="101.19999999999999" font-size="4.6" text-anchor="start" font-weight="normal" fill="#111">20</text>
<text x="307" y="120.8" font-size="4.6" text-anchor="middle" font-weight="normal" fill="#111">-15.0</text>
<text x="322.8" y="120.8" font-size="4.6" text-anchor="middle" font-weight="normal" fill="#111">-12.5</text>
<text x="338.6" y="120.8" font-size="4.6" text-anchor="middle" font-weight="normal" fill="#111">-10.0</text>
<text x="354.4" y="120.8" font-size="4.6" text-anchor="middle" font-weight="normal" fill="#111">-7.5</text>
<text x="370.2" y="120.8" font-size="4.6" text-anchor="middle" font-weight="normal" fill="#111">-5.0</text>
<text x="386" y="120.8" font-size="4.6" text-anchor="middle" font-weight="normal" fill="#111">-2.5</text>
<text x="402.5" y="120.8" font-size="4.6" text-anchor="middle" font-weight="normal" fill="#111">0.0</text>
<text x="360.5" y="126.6" font-size="4.5" text-anchor="middle" font-weight="normal" fill="#111">depth (cm)</text>
<text x="296.1" y="71.6" font-size="5.3" text-anchor="middle" font-weight="normal" fill="#111" transform="rotate(-90 296.1 71.6)">Absorbed dose (%)</text>
<text x="428.0" y="71.6" font-size="5.3" text-anchor="middle" font-weight="normal" fill="#111" transform="rotate(-90 428.0 71.6)">Cluster dose (%)</text>
<path d="M306.0,86.0 306.6,86.1 307.2,86.1 307.8,86.2 308.4,86.3 309.0,86.4 309.6,86.4 310.2,86.5 310.8,86.6 311.4,86.7 312.0,86.7 312.6,86.8 313.2,86.9 313.8,86.9 314.4,87.0 315.0,87.1 315.6,87.1 316.2,87.2 316.8,87.3 317.4,87.3 318.0,87.4 318.6,87.4 319.2,87.5 319.8,87.5 320.4,87.6 321.0,87.6 321.6,87.7 322.2,87.7 322.8,87.8 323.4,87.8 324.0,87.8 324.6,87.9 325.2,87.9 325.8,87.9 326.4,87.9 327.0,88.0 327.6,88.0 328.2,88.0 328.8,88.0 329.4,88.0 330.0,88.0 330.6,88.0 331.2,88.0 331.8,88.0 332.4,88.0 333.0,88.0 333.7,88.0 334.3,88.0 334.9,88.0 335.5,88.0 336.1,88.0 336.7,88.0 337.3,88.0 337.9,88.0 338.5,88.0 339.1,88.0 339.8,88.0 340.4,88.0 341.0,88.0 341.6,88.0 342.2,88.0 342.8,88.0 343.4,88.0 344.0,88.0 344.6,88.0 345.2,88.0 345.9,88.0 346.5,88.0 347.1,88.0 347.7,88.0 348.3,88.0 348.9,88.0 349.5,88.0 350.1,88.0 350.7,88.0 351.3,88.0 352.0,88.0 352.6,88.0 353.2,88.0 353.8,88.0 354.4,88.0 355.0,88.0 355.6,88.0 356.2,88.0 356.8,88.0 357.4,87.9 358.0,87.9 358.6,87.8 359.2,87.8 359.8,87.7 360.4,87.6 361.0,87.6 361.6,87.5 362.2,87.4 362.8,87.3 363.4,87.2 364.0,87.1 364.6,87.0 365.2,86.9 365.8,86.8 366.4,86.7 367.0,86.6 367.6,86.5 368.2,86.3 368.8,86.2 369.4,86.1 370.0,86.0 370.6,85.9 371.2,85.7 371.9,85.6 372.5,85.5 373.1,85.3 373.8,85.2 374.4,85.0 375.0,84.8 375.6,84.6 376.2,84.4 376.9,84.2 377.5,84.0 378.1,83.8 378.8,83.5 379.4,83.3 380.0,83.0 380.6,82.7 381.2,82.4 381.9,82.1 382.5,81.7 383.1,81.3 383.8,80.9 384.4,80.4 385.0,79.9 385.6,79.4 386.2,78.9 386.9,78.3 387.5,77.7 388.1,77.1 388.8,76.4 389.4,75.7 390.0,75.0 390.6,74.2 391.2,73.4 391.8,72.4 392.4,71.3 393.0,70.2 393.3,69.5 393.6,68.9 393.9,68.3 394.2,67.6 394.5,67.0 394.8,66.3 395.1,65.6 395.4,64.9 395.7,64.2 396.0,63.5 396.3,62.7 396.7,61.9 397.0,61.0 397.3,60.1 397.7,59.2 398.0,58.2 398.3,57.2 398.7,56.1 399.0,55.1 399.3,53.9 399.6,53.1 399.8,52.3 400.0,51.5 400.2,50.6 400.5,49.6 400.8,48.7 401.0,47.6 401.2,46.9 401.3,46.0 401.5,45.2 401.7,44.2 401.8,43.2 402.0,42.0 402.1,41.0 402.2,39.7 402.3,38.8 402.4,37.8 402.5,36.8 402.6,35.7 402.7,34.5 402.8,33.3 402.8,32.4 402.9,31.5 402.9,30.5 403.0,29.6" fill="none" stroke="#1a1a1a" stroke-width="0.85" stroke-dasharray="1.4,0.9" stroke-linejoin="round"/>
<path d="M306.0,76.0 306.6,76.1 307.2,76.1 307.8,76.2 308.4,76.3 309.0,76.3 309.6,76.4 310.2,76.5 310.8,76.5 311.4,76.6 312.0,76.7 312.6,76.7 313.2,76.8 313.8,76.8 314.4,76.9 315.0,76.9 315.6,77.0 316.2,77.0 316.8,77.1 317.4,77.1 318.0,77.2 318.6,77.2 319.2,77.2 319.8,77.3 320.4,77.3 321.0,77.3 321.6,77.4 322.2,77.4 322.8,77.4 323.4,77.5 324.0,77.5 324.6,77.5 325.2,77.5 325.8,77.5 326.4,77.6 327.0,77.6 327.6,77.6 328.2,77.6 328.8,77.6 329.4,77.6 330.0,77.6 330.6,77.6 331.2,77.6 331.8,77.6 332.4,77.6 333.0,77.6 333.7,77.6 334.3,77.6 334.9,77.5 335.5,77.5 336.1,77.5 336.7,77.5 337.3,77.5 337.9,77.5 338.5,77.5 339.1,77.4 339.8,77.4 340.4,77.4 341.0,77.4 341.6,77.3 342.2,77.3 342.8,77.3 343.4,77.2 344.0,77.2 344.6,77.2 345.2,77.2 345.9,77.1 346.5,77.1 347.1,77.0 347.7,77.0 348.3,77.0 348.9,76.9 349.5,76.9 350.1,76.9 350.7,76.8 351.3,76.8 352.0,76.7 352.6,76.7 353.2,76.6 353.8,76.6 354.4,76.5 355.0,76.5 355.6,76.4 356.2,76.4 356.8,76.3 357.4,76.3 358.0,76.2 358.6,76.1 359.2,76.0 359.8,75.9 360.5,75.8 361.1,75.7 361.7,75.6 362.3,75.4 362.9,75.3 363.5,75.2 364.1,75.0 364.7,74.9 365.3,74.7 365.9,74.5 366.5,74.4 367.1,74.2 367.7,74.0 368.3,73.8 368.9,73.6 369.5,73.5 370.2,73.3 370.8,73.0 371.4,72.8 372.0,72.6 372.6,72.4 373.2,72.2 373.8,72.0 374.4,71.7 375.0,71.5 375.6,71.2 376.2,70.9 376.9,70.6 377.5,70.3 378.1,69.9 378.8,69.5 379.4,69.0 380.0,68.6 380.6,68.1 381.2,67.6 381.9,67.1 382.5,66.6 383.1,66.1 383.8,65.6 384.4,65.0 385.0,64.5 385.6,64.0 386.2,63.4 386.8,62.8 387.5,62.2 388.1,61.6 388.7,61.0 389.3,60.3 389.9,59.6 390.5,58.9 391.2,58.2 391.8,57.5 392.4,56.8 393.0,56.0 393.6,55.2 394.2,54.4 394.9,53.6 395.5,52.8 396.1,51.9 396.8,50.9 397.4,49.9 398.0,48.8 398.6,47.6 398.9,47.0 399.2,46.3 399.5,45.6 399.8,44.8 400.1,44.1 400.4,43.4 400.7,42.6 401.0,41.9 401.4,40.8 401.9,39.7 402.4,38.6 402.8,37.5" fill="none" stroke="#ff3030" stroke-width="1.1" stroke-linejoin="round"/>
<path d="M306.0,85.0 306.6,85.0 307.2,85.1 307.8,85.1 308.4,85.2 309.0,85.2 309.6,85.2 310.2,85.2 310.8,85.3 311.4,85.3 312.0,85.3 312.6,85.3 313.2,85.4 313.8,85.4 314.4,85.4 315.0,85.4 315.6,85.4 316.2,85.5 316.8,85.5 317.4,85.5 318.0,85.5 318.6,85.5 319.2,85.5 319.8,85.5 320.4,85.5 321.0,85.6 321.6,85.6 322.2,85.6 322.8,85.6 323.4,85.6 324.0,85.6 324.6,85.6 325.2,85.6 325.8,85.6 326.4,85.6 327.0,85.6 327.6,85.6 328.2,85.6 328.8,85.6 329.4,85.6 330.0,85.6 330.6,85.6 331.2,85.6 331.8,85.6 332.4,85.6 333.0,85.6 333.7,85.6 334.3,85.5 334.9,85.5 335.5,85.5 336.1,85.5 336.7,85.5 337.3,85.4 337.9,85.4 338.5,85.4 339.1,85.3 339.8,85.3 340.4,85.3 341.0,85.2 341.6,85.2 342.2,85.2 342.8,85.1 343.4,85.1 344.0,85.0 344.6,85.0 345.2,84.9 345.9,84.9 346.5,84.8 347.1,84.8 347.7,84.7 348.3,84.7 348.9,84.6 349.5,84.6 350.1,84.5 350.7,84.4 351.3,84.4 352.0,84.3 352.6,84.3 353.2,84.2 353.8,84.1 354.4,84.1 355.0,84.0 355.6,83.9 356.2,83.8 356.8,83.8 357.4,83.6 358.0,83.5 358.6,83.4 359.2,83.3 359.8,83.1 360.5,83.0 361.1,82.8 361.7,82.7 362.3,82.5 362.9,82.3 363.5,82.1 364.1,81.9 364.7,81.7 365.3,81.5 365.9,81.3 366.5,81.0 367.1,80.8 367.7,80.6 368.3,80.3 368.9,80.0 369.5,79.8 370.2,79.5 370.8,79.2 371.4,79.0 372.0,78.7 372.6,78.4 373.2,78.1 373.8,77.8 374.4,77.5 375.0,77.2 375.6,76.9 376.2,76.5 376.9,76.1 377.5,75.7 378.1,75.2 378.8,74.7 379.4,74.2 380.0,73.7 380.6,73.1 381.2,72.5 381.9,72.0 382.5,71.3 383.1,70.7 383.8,70.1 384.4,69.4 385.0,68.8 385.6,68.1 386.2,67.4 386.8,66.7 387.5,66.0 388.1,65.2 388.7,64.3 389.3,63.5 389.9,62.6 390.5,61.7 391.2,60.8 391.8,59.9 392.4,59.0 393.0,58.0 393.6,57.0 394.2,56.0 394.9,54.9 395.5,53.8 396.1,52.6 396.4,52.0 396.8,51.4 397.1,50.8 397.4,50.2 397.7,49.5 398.0,48.8 398.3,48.1 398.6,47.4 398.9,46.6 399.2,45.8 399.5,44.9 399.8,44.1 400.1,43.2 400.4,42.3 400.7,41.5 401.0,40.7 401.4,39.5 401.9,38.3 402.4,37.2 402.8,36.0" fill="none" stroke="#2a2aff" stroke-width="1.1" stroke-linejoin="round"/>
<path d="M306.0,93.6 306.6,93.6 307.2,93.6 307.8,93.6 308.4,93.6 309.0,93.6 309.6,93.6 310.2,93.6 310.9,93.6 311.5,93.6 312.1,93.6 312.7,93.6 313.3,93.6 313.9,93.6 314.5,93.6 315.1,93.6 315.7,93.6 316.3,93.5 316.9,93.5 317.5,93.5 318.1,93.5 318.8,93.5 319.4,93.5 320.0,93.5 320.6,93.5 321.2,93.5 321.8,93.5 322.4,93.5 323.0,93.4 323.6,93.4 324.2,93.4 324.8,93.4 325.4,93.4 326.0,93.4 326.6,93.4 327.2,93.4 327.9,93.4 328.5,93.3 329.1,93.3 329.7,93.3 330.3,93.3 330.9,93.3 331.5,93.3 332.1,93.2 332.7,93.2 333.3,93.2 333.9,93.2 334.5,93.2 335.1,93.2 335.8,93.1 336.4,93.1 337.0,93.1 337.6,93.1 338.2,93.1 338.8,93.0 339.4,93.0 340.0,93.0 340.6,93.0 341.2,92.9 341.8,92.9 342.4,92.8 343.0,92.8 343.6,92.7 344.2,92.7 344.8,92.6 345.4,92.5 346.0,92.4 346.6,92.3 347.2,92.2 347.8,92.1 348.4,92.0 349.0,91.9 349.6,91.8 350.2,91.7 350.8,91.6 351.4,91.5 352.0,91.4 352.6,91.3 353.2,91.1 353.8,91.0 354.4,90.9 355.0,90.8 355.6,90.7 356.2,90.6 356.8,90.5 357.4,90.3 358.0,90.2 358.6,90.1 359.2,90.0 359.8,89.9 360.4,89.7 361.0,89.6 361.6,89.5 362.2,89.3 362.8,89.2 363.4,89.0 364.0,88.9 364.6,88.7 365.2,88.6 365.8,88.4 366.4,88.2 367.0,88.0 367.6,87.8 368.2,87.6 368.8,87.4 369.4,87.2 370.0,87.0 370.6,86.8 371.2,86.5 371.9,86.2 372.5,85.9 373.1,85.5 373.8,85.2 374.4,84.8 375.0,84.4 375.6,83.9 376.2,83.5 376.9,83.0 377.5,82.6 378.1,82.1 378.8,81.6 379.4,81.0 380.0,80.5 380.6,79.9 381.2,79.3 381.9,78.7 382.5,78.1 383.1,77.4 383.8,76.6 384.4,75.9 385.0,75.1 385.6,74.2 386.2,73.4 386.9,72.5 387.5,71.5 388.1,70.6 388.8,69.6 389.4,68.6 390.0,67.5 390.6,66.4 390.9,65.8 391.2,65.2 391.5,64.5 391.8,63.9 392.1,63.2 392.4,62.5 392.7,61.8 393.0,61.0 393.3,60.3 393.6,59.5 393.9,58.8 394.2,58.0 394.5,57.2 394.8,56.4 395.1,55.7 395.4,54.9 395.7,54.1 396.0,53.4 396.3,52.6 396.7,51.8 397.0,51.0 397.3,50.3 397.7,49.5 398.0,48.7 398.3,47.9 398.7,47.1 399.0,46.2 399.3,45.2 399.7,44.1 400.0,43.0 400.2,42.2 400.4,41.3 400.6,40.4 400.9,39.3 401.1,38.3 401.3,37.2 401.5,36.3 401.6,35.4 401.8,34.5 402.0,33.5 402.1,32.6 402.3,31.6 402.4,30.6 402.6,29.6" fill="none" stroke="#2f9a2f" stroke-width="1.1" stroke-linejoin="round"/>
<path d="M403.2,88.9 403.4,89.7 403.5,90.5 403.7,91.2 403.9,91.9 404.0,92.6 404.2,93.2 404.5,94.4 404.9,95.6 405.2,96.6 405.6,97.5 406.0,98.4 406.5,99.5 407.0,100.5 407.5,101.5 408.0,102.4 408.5,103.2 409.0,104.0 409.5,104.8 410.0,105.4 410.6,106.1 411.2,106.7 411.8,107.2 412.4,107.7 413.0,108.2 413.6,108.7 414.3,109.2 415.0,109.6 415.6,110.0" fill="none" stroke="#2f9a2f" stroke-width="0.9" stroke-linejoin="round"/>
<path d="M403.2,88.1 403.4,88.9 403.5,89.7 403.7,90.4 403.9,91.1 404.0,91.8 404.2,92.4 404.5,93.6 404.9,94.8 405.2,95.8 405.6,96.7 406.0,97.6 406.5,98.7 407.0,99.7 407.5,100.7 408.0,101.6 408.5,102.4 409.0,103.2 409.5,104.0 410.0,104.6 410.6,105.3 411.2,105.9 411.8,106.4 412.4,106.9 413.0,107.4 413.6,107.9 414.3,108.4 415.0,108.8 415.6,109.2" fill="none" stroke="#c03090" stroke-width="0.9" stroke-linejoin="round"/>
<path d="M403.2,88.5 403.4,89.3 403.5,90.1 403.7,90.8 403.9,91.5 404.0,92.2 404.2,92.8 404.5,94.0 404.9,95.2 405.2,96.2 405.6,97.1 406.0,98.0 406.5,99.1 407.0,100.1 407.5,101.1 408.0,102.0 408.5,102.8 409.0,103.6 409.5,104.4 410.0,105.0 410.6,105.7 411.2,106.3 411.8,106.8 412.4,107.3 413.0,107.8 413.6,108.3 414.3,108.8 415.0,109.2 415.6,109.6" fill="none" stroke="#1a1a6a" stroke-width="0.9" stroke-linejoin="round"/>
<path d="M403.00,29.60 L403.20,88.70" fill="none" stroke="#2f9a2f" stroke-width="1.0" stroke-linejoin="round"/>
<rect x="445.5" y="26.6" width="100.3" height="67.3" fill="#fff" stroke="#4a5a6a" stroke-width="0.9"/>
<line x1="454.6" y1="37.5" x2="475" y2="37.5" stroke="#000" stroke-width="1.3" stroke-dasharray="4.3,4.1"/>
<line x1="454.2" y1="52.4" x2="475" y2="52.4" stroke="#e8101a" stroke-width="1.2"/>
<line x1="454.2" y1="66.7" x2="475" y2="66.7" stroke="#1060c8" stroke-width="1.2"/>
<line x1="454.2" y1="81.3" x2="475" y2="81.3" stroke="#10a040" stroke-width="1.2"/>
<text x="481.0" y="40.6" font-size="8.3" text-anchor="start" font-weight="normal" fill="#111" stroke="#111" stroke-width="0.2">absorbed dose</text>
<text x="481.0" y="55.4" font-size="8.3" text-anchor="start" font-weight="normal" fill="#111" stroke="#111" stroke-width="0.2">cluster dose F<tspan font-size="5.6" dy="2.3" stroke-width="0.1">5</tspan></text>
<text x="481.0" y="69.8" font-size="8.3" text-anchor="start" font-weight="normal" fill="#111" stroke="#111" stroke-width="0.2">cluster dose F<tspan font-size="5.6" dy="2.3" stroke-width="0.1">6</tspan></text>
<text x="481.0" y="84.4" font-size="8.3" text-anchor="start" font-weight="normal" fill="#111" stroke="#111" stroke-width="0.2">cluster dose F<tspan font-size="5.6" dy="2.3" stroke-width="0.1">7</tspan></text>
<rect x="16.0" y="161.0" width="111.4" height="84.30000000000001" fill="none" stroke="#cfcfcf" stroke-width="0.9"/>
<text x="72.5" y="157.2" font-size="7.8" text-anchor="middle" font-weight="normal" fill="#111" stroke="#111" stroke-width="0.35">proton</text>
<text x="15.0" y="167.0" font-size="4.6" text-anchor="end" font-weight="normal" fill="#111">100</text>
<text x="15.0" y="182.48" font-size="4.6" text-anchor="end" font-weight="normal" fill="#111">80</text>
<text x="15.0" y="197.96" font-size="4.6" text-anchor="end" font-weight="normal" fill="#111">60</text>
<text x="15.0" y="213.44" font-size="4.6" text-anchor="end" font-weight="normal" fill="#111">40</text>
<text x="15.0" y="228.92000000000002" font-size="4.6" text-anchor="end" font-weight="normal" fill="#111">20</text>
<text x="15.0" y="244.4" font-size="4.6" text-anchor="end" font-weight="normal" fill="#111">0</text>
<text x="128.6" y="167.0" font-size="4.6" text-anchor="start" font-weight="normal" fill="#111">100</text>
<text x="128.6" y="182.48" font-size="4.6" text-anchor="start" font-weight="normal" fill="#111">80</text>
<text x="128.6" y="197.96" font-size="4.6" text-anchor="start" font-weight="normal" fill="#111">60</text>
<text x="128.6" y="213.44" font-size="4.6" text-anchor="start" font-weight="normal" fill="#111">40</text>
<text x="128.6" y="228.92000000000002" font-size="4.6" text-anchor="start" font-weight="normal" fill="#111">20</text>
<text x="128.6" y="244.4" font-size="4.6" text-anchor="start" font-weight="normal" fill="#111">0</text>
<text x="20.6" y="250.4" font-size="4.6" text-anchor="middle" font-weight="normal" fill="#111">0</text>
<text x="44.85" y="250.4" font-size="4.6" text-anchor="middle" font-weight="normal" fill="#111">1</text>
<text x="69.1" y="250.4" font-size="4.6" text-anchor="middle" font-weight="normal" fill="#111">2</text>
<text x="93.35" y="250.4" font-size="4.6" text-anchor="middle" font-weight="normal" fill="#111">3</text>
<text x="117.6" y="250.4" font-size="4.6" text-anchor="middle" font-weight="normal" fill="#111">4</text>
<text x="72.2" y="256.2" font-size="4.5" text-anchor="middle" font-weight="normal" fill="#111">depth (cm)</text>
<text x="5.9" y="203.9" font-size="5.3" text-anchor="middle" font-weight="normal" fill="#111" transform="rotate(-90 5.9 203.9)">Absorbed dose (%)</text>
<text x="139.8" y="203.6" font-size="5.3" text-anchor="middle" font-weight="normal" fill="#111" transform="rotate(-90 139.8 203.6)">Cluster dose (%)</text>
<path d="M22.0,207.6 22.6,207.4 23.2,207.3 23.8,207.1 24.4,207.0 25.0,206.8 25.6,206.6 26.2,206.5 26.8,206.3 27.4,206.2 28.0,206.0 28.6,205.8 29.2,205.7 29.8,205.5 30.4,205.4 31.0,205.2 31.6,205.0 32.2,204.9 32.8,204.7 33.4,204.6 34.0,204.4 34.6,204.2 35.2,204.1 35.8,203.9 36.4,203.8 37.0,203.6 37.6,203.4 38.2,203.3 38.8,203.1 39.4,203.0 40.0,202.8 40.6,202.6 41.2,202.5 41.8,202.3 42.4,202.2 43.0,202.0 43.6,201.9 44.2,201.7 44.8,201.5 45.5,201.4 46.1,201.2 46.7,201.1 47.3,200.9 47.9,200.8 48.5,200.6 49.1,200.5 49.7,200.3 50.3,200.1 50.9,200.0 51.5,199.8 52.1,199.7 52.7,199.5 53.3,199.4 53.9,199.2 54.5,199.0 55.2,198.9 55.8,198.7 56.4,198.5 57.0,198.4 57.6,198.2 58.2,198.0 58.8,197.9 59.4,197.7 60.0,197.5 60.6,197.3 61.2,197.2 61.8,197.0 62.4,196.8 63.0,196.6 63.6,196.5 64.2,196.3 64.8,196.1 65.4,195.9 66.0,195.7 66.6,195.6 67.2,195.4 67.8,195.2 68.4,195.0 69.0,194.8 69.6,194.5 70.2,194.3 70.8,194.1 71.4,193.8 72.0,193.6 72.6,193.3 73.2,193.0 73.8,192.7 74.5,192.4 75.1,192.1 75.7,191.7 76.3,191.4 76.9,191.0 77.5,190.6 78.2,190.2 78.8,189.8 79.4,189.4 80.0,189.0 80.6,188.6 81.2,188.1 81.8,187.7 82.5,187.2 83.1,186.7 83.7,186.2 84.3,185.6 84.9,185.1 85.5,184.5 86.2,183.9 86.8,183.3 87.4,182.7 88.0,182.0 88.6,181.3 89.2,180.6 89.9,179.8 90.5,179.0 91.1,178.1 91.8,177.2 92.4,176.2 93.0,175.2 93.6,174.0 93.9,173.4 94.2,172.7 94.5,172.0 94.8,171.3 95.1,170.6 95.4,169.9 96.0,168.8 96.6,167.8 97.2,166.8 97.8,165.9 98.4,165.2 99.0,165.0 99.6,165.0 100.2,165.0 100.8,165.0 101.5,165.0 102.1,165.0 102.7,165.0 103.3,165.0 103.9,165.0 104.5,165.0 105.2,165.0 105.8,165.0 106.4,165.0 107.0,165.0 107.6,165.0 108.2,165.0 108.8,165.0 109.5,165.0 110.1,165.0 110.7,165.0 111.3,165.0 111.9,165.0 112.5,165.0 113.2,165.0 113.8,165.0 114.4,165.0 115.0,165.0 115.5,165.1 116.0,165.4 116.5,165.7 117.0,166.0" fill="none" stroke="#1a1a1a" stroke-width="0.85" stroke-dasharray="1.4,0.9" stroke-linejoin="round"/>
<path d="M22.0,212.6 22.6,212.5 23.2,212.3 23.8,212.2 24.4,212.1 25.0,211.9 25.6,211.8 26.2,211.7 26.8,211.5 27.4,211.4 28.0,211.3 28.6,211.1 29.2,211.0 29.8,210.9 30.4,210.7 31.0,210.6 31.6,210.5 32.2,210.3 32.8,210.2 33.4,210.1 34.0,209.9 34.6,209.8 35.2,209.7 35.8,209.5 36.4,209.4 37.0,209.3 37.6,209.1 38.2,209.0 38.8,208.9 39.4,208.7 40.0,208.6 40.6,208.5 41.2,208.3 41.8,208.2 42.4,208.1 43.0,207.9 43.6,207.8 44.2,207.7 44.8,207.6 45.5,207.4 46.1,207.3 46.7,207.2 47.3,207.1 47.9,206.9 48.5,206.8 49.1,206.7 49.7,206.6 50.3,206.4 50.9,206.3 51.5,206.2 52.1,206.1 52.7,205.9 53.3,205.8 53.9,205.6 54.5,205.5 55.2,205.4 55.8,205.2 56.4,205.1 57.0,204.9 57.6,204.8 58.2,204.6 58.8,204.4 59.4,204.3 60.0,204.1 60.6,203.9 61.2,203.7 61.8,203.6 62.4,203.4 63.0,203.2 63.6,203.0 64.2,202.8 64.8,202.6 65.4,202.4 66.0,202.2 66.6,201.9 67.2,201.7 67.8,201.5 68.4,201.2 69.0,201.0 69.6,200.7 70.2,200.4 70.8,200.2 71.4,199.9 72.0,199.6 72.6,199.3 73.2,199.0 73.8,198.6 74.5,198.2 75.1,197.8 75.7,197.4 76.3,197.0 76.9,196.6 77.5,196.1 78.2,195.6 78.8,195.2 79.4,194.7 80.0,194.2 80.6,193.7 81.2,193.2 81.8,192.7 82.5,192.1 83.1,191.5 83.7,191.0 84.3,190.3 84.9,189.7 85.5,189.1 86.2,188.4 86.8,187.7 87.4,187.0 88.0,186.2 88.6,185.4 89.2,184.5 89.9,183.5 90.5,182.5 91.1,181.4 91.8,180.3 92.4,179.2 93.0,178.1 93.6,177.0 93.9,176.3 94.2,175.7 94.5,175.1 94.8,174.4 95.4,173.3 96.0,172.4 96.6,171.6 97.2,170.9 97.8,170.3 98.4,169.9 99.0,169.6 99.6,169.5 100.2,169.4 100.8,169.3 101.4,169.2 102.0,169.2 102.6,169.1 103.2,169.1 103.8,169.0 104.4,169.0 105.0,168.9 105.6,168.8 106.2,168.7 106.9,168.6 107.5,168.4 108.1,168.3 108.8,168.1 109.4,168.0 110.0,167.8 110.6,167.6 111.2,167.3 111.9,166.9 112.5,166.6 113.1,166.2 113.8,165.9 114.4,165.7 115.0,165.5 115.8,165.4 116.5,165.3" fill="none" stroke="#ff4060" stroke-width="0.8" stroke-linejoin="round"/>
<path d="M22.0,211.4 22.6,211.3 23.2,211.1 23.8,211.0 24.4,210.9 25.0,210.7 25.6,210.6 26.2,210.5 26.8,210.3 27.4,210.2 28.0,210.1 28.6,209.9 29.2,209.8 29.8,209.7 30.4,209.5 31.0,209.4 31.6,209.3 32.2,209.1 32.8,209.0 33.4,208.9 34.0,208.7 34.6,208.6 35.2,208.5 35.8,208.3 36.4,208.2 37.0,208.1 37.6,207.9 38.2,207.8 38.8,207.7 39.4,207.5 40.0,207.4 40.6,207.3 41.2,207.1 41.8,207.0 42.4,206.9 43.0,206.7 43.6,206.6 44.2,206.5 44.8,206.4 45.5,206.2 46.1,206.1 46.7,206.0 47.3,205.9 47.9,205.7 48.5,205.6 49.1,205.5 49.7,205.4 50.3,205.2 50.9,205.1 51.5,205.0 52.1,204.9 52.7,204.7 53.3,204.6 53.9,204.4 54.5,204.3 55.2,204.2 55.8,204.0 56.4,203.9 57.0,203.7 57.6,203.6 58.2,203.4 58.8,203.2 59.4,203.1 60.0,202.9 60.6,202.7 61.2,202.5 61.8,202.4 62.4,202.2 63.0,202.0 63.6,201.8 64.2,201.6 64.8,201.4 65.4,201.2 66.0,201.0 66.6,200.7 67.2,200.5 67.8,200.3 68.4,200.0 69.0,199.8 69.6,199.5 70.2,199.2 70.8,199.0 71.4,198.7 72.0,198.4 72.6,198.1 73.2,197.8 73.8,197.4 74.5,197.0 75.1,196.6 75.7,196.2 76.3,195.8 76.9,195.4 77.5,194.9 78.2,194.4 78.8,194.0 79.4,193.5 80.0,193.0 80.6,192.5 81.2,192.0 81.8,191.5 82.5,190.9 83.1,190.3 83.7,189.8 84.3,189.1 84.9,188.5 85.5,187.9 86.2,187.2 86.8,186.5 87.4,185.8 88.0,185.0 88.6,184.2 89.2,183.3 89.9,182.3 90.5,181.3 91.1,180.2 91.8,179.1 92.4,178.0 93.0,176.9 93.6,175.8 93.9,175.1 94.2,174.5 94.5,173.9 94.8,173.2 95.4,172.1 96.0,171.2 96.6,170.4 97.2,169.7 97.8,169.1 98.4,168.7 99.0,168.4 99.6,168.3 100.2,168.2 100.8,168.1 101.4,168.0 102.0,168.0 102.6,167.9 103.2,167.9 103.8,167.8 104.4,167.8 105.0,167.7 105.6,167.6 106.2,167.5 106.9,167.4 107.5,167.2 108.1,167.1 108.8,166.9 109.4,166.8 110.0,166.6 110.6,166.4 111.2,166.1 111.9,165.9 112.5,165.6 113.1,165.3 113.8,165.1 114.4,165.0 115.0,164.9 115.8,165.0 116.5,165.3" fill="none" stroke="#40b040" stroke-width="0.8" stroke-linejoin="round"/>
<path d="M22.0,212.0 22.6,211.9 23.2,211.7 23.8,211.6 24.4,211.5 25.0,211.3 25.6,211.2 26.2,211.1 26.8,210.9 27.4,210.8 28.0,210.7 28.6,210.5 29.2,210.4 29.8,210.3 30.4,210.1 31.0,210.0 31.6,209.9 32.2,209.7 32.8,209.6 33.4,209.5 34.0,209.3 34.6,209.2 35.2,209.1 35.8,208.9 36.4,208.8 37.0,208.7 37.6,208.5 38.2,208.4 38.8,208.3 39.4,208.1 40.0,208.0 40.6,207.9 41.2,207.7 41.8,207.6 42.4,207.5 43.0,207.3 43.6,207.2 44.2,207.1 44.8,207.0 45.5,206.8 46.1,206.7 46.7,206.6 47.3,206.5 47.9,206.3 48.5,206.2 49.1,206.1 49.7,206.0 50.3,205.8 50.9,205.7 51.5,205.6 52.1,205.5 52.7,205.3 53.3,205.2 53.9,205.0 54.5,204.9 55.2,204.8 55.8,204.6 56.4,204.5 57.0,204.3 57.6,204.2 58.2,204.0 58.8,203.8 59.4,203.7 60.0,203.5 60.6,203.3 61.2,203.1 61.8,203.0 62.4,202.8 63.0,202.6 63.6,202.4 64.2,202.2 64.8,202.0 65.4,201.8 66.0,201.6 66.6,201.3 67.2,201.1 67.8,200.9 68.4,200.6 69.0,200.4 69.6,200.1 70.2,199.8 70.8,199.6 71.4,199.3 72.0,199.0 72.6,198.7 73.2,198.4 73.8,198.0 74.5,197.6 75.1,197.2 75.7,196.8 76.3,196.4 76.9,196.0 77.5,195.5 78.2,195.0 78.8,194.6 79.4,194.1 80.0,193.6 80.6,193.1 81.2,192.6 81.8,192.1 82.5,191.5 83.1,190.9 83.7,190.4 84.3,189.7 84.9,189.1 85.5,188.5 86.2,187.8 86.8,187.1 87.4,186.4 88.0,185.6 88.6,184.8 89.2,183.9 89.9,182.9 90.5,181.9 91.1,180.8 91.8,179.7 92.4,178.6 93.0,177.5 93.6,176.4 93.9,175.7 94.2,175.1 94.5,174.5 94.8,173.8 95.4,172.7 96.0,171.8 96.6,171.0 97.2,170.3 97.8,169.7 98.4,169.3 99.0,169.0 99.6,168.9 100.2,168.8 100.8,168.7 101.4,168.6 102.0,168.6 102.6,168.5 103.2,168.5 103.8,168.4 104.4,168.4 105.0,168.3 105.6,168.2 106.2,168.1 106.9,168.0 107.5,167.8 108.1,167.7 108.8,167.5 109.4,167.4 110.0,167.2 110.6,167.0 111.2,166.7 111.9,166.4 112.5,166.0 113.1,165.7 113.8,165.4 114.4,165.3 115.0,165.2 115.8,165.2 116.5,165.3" fill="none" stroke="#22228a" stroke-width="1.1" stroke-linejoin="round"/>
<path d="M116.5,165.3 116.9,166.2 117.1,166.9 117.2,167.7 117.4,168.6 117.6,169.6 117.8,170.7 118.0,171.8 118.1,172.6 118.2,173.6 118.4,174.6 118.5,175.7 118.6,176.5 118.7,177.4 118.8,178.3 118.8,179.1 118.9,180.1 119.0,181.0 119.1,181.9 119.2,182.8 119.2,183.8 119.3,184.9 119.4,185.9 119.5,187.1 119.5,188.2 119.6,189.4 119.7,190.6 119.8,191.9 119.8,192.9 119.9,193.9 119.9,195.0 120.0,196.0 120.1,197.1 120.1,198.1 120.2,199.3 120.3,200.5 120.3,201.7 120.4,202.9 120.5,204.0 120.6,205.1 120.6,206.1 120.7,207.2 120.8,208.3 120.9,209.4 120.9,210.5 121.0,211.6 121.1,212.7 121.1,213.7 121.2,214.8 121.3,215.9 121.4,217.0 121.4,218.1 121.5,219.1 121.6,220.4 121.7,221.6 121.8,222.8 121.8,223.9 121.9,225.1 122.0,226.2 122.1,227.4 122.2,228.7 122.3,229.8 122.4,231.0 122.5,232.0 122.6,232.9 122.7,233.9 122.8,234.9 122.9,235.8 123.0,236.8 123.0,237.7 123.2,238.9 123.3,239.9 123.6,241.0 123.9,241.5 124.7,242.1 125.6,242.3 126.2,242.3 126.8,242.4 127.4,242.4" fill="none" stroke="#1a1a1a" stroke-width="0.85" stroke-dasharray="1.4,0.9" stroke-linejoin="round"/>
<path d="M116.8,165.3 117.2,166.2 117.4,166.9 117.5,167.7 117.7,168.6 117.9,169.6 118.1,170.7 118.3,171.8 118.4,172.6 118.5,173.6 118.7,174.6 118.8,175.7 118.9,176.5 119.0,177.4 119.0,178.3 119.1,179.1 119.2,180.1 119.3,181.0 119.4,181.9 119.5,182.8 119.5,183.8 119.6,184.9 119.7,185.9 119.8,187.1 119.8,188.2 119.9,189.4 120.0,190.6 120.0,191.9 120.1,192.9 120.2,193.9 120.2,195.0 120.3,196.0 120.4,197.1 120.4,198.1 120.5,199.3 120.6,200.5 120.6,201.7 120.7,202.9 120.8,204.0 120.9,205.1 120.9,206.1 121.0,207.2 121.1,208.3 121.2,209.4 121.2,210.5 121.3,211.6 121.4,212.7 121.4,213.7 121.5,214.8 121.6,215.9 121.7,217.0 121.7,218.1 121.8,219.1 121.9,220.4 122.0,221.6 122.0,222.8 122.1,223.9 122.2,225.1 122.3,226.2 122.4,227.4 122.5,228.7 122.6,229.8 122.7,231.0 122.8,232.0 122.9,232.9 123.0,233.9 123.1,234.9 123.2,235.8 123.3,236.7 123.3,237.6 123.5,238.8 123.6,239.8 123.9,241.0 124.2,241.5 124.7,242.1 125.6,242.3 126.2,242.4 126.8,242.4 127.4,242.4" fill="none" stroke="#2f9a2f" stroke-width="1.0" stroke-linejoin="round"/>
<rect x="159.8" y="161.0" width="110.80000000000001" height="84.30000000000001" fill="none" stroke="#cfcfcf" stroke-width="0.9"/>
<text x="215.2" y="157.2" font-size="7.8" text-anchor="middle" font-weight="normal" fill="#111" stroke="#111" stroke-width="0.35">He</text>
<text x="158.8" y="167.0" font-size="4.6" text-anchor="end" font-weight="normal" fill="#111">100</text>
<text x="158.8" y="182.48" font-size="4.6" text-anchor="end" font-weight="normal" fill="#111">80</text>
<text x="158.8" y="197.96" font-size="4.6" text-anchor="end" font-weight="normal" fill="#111">60</text>
<text x="158.8" y="213.44" font-size="4.6" text-anchor="end" font-weight="normal" fill="#111">40</text>
<text x="158.8" y="228.92000000000002" font-size="4.6" text-anchor="end" font-weight="normal" fill="#111">20</text>
<text x="158.8" y="244.4" font-size="4.6" text-anchor="end" font-weight="normal" fill="#111">0</text>
<text x="271.8" y="167.0" font-size="4.6" text-anchor="start" font-weight="normal" fill="#111">100</text>
<text x="271.8" y="182.48" font-size="4.6" text-anchor="start" font-weight="normal" fill="#111">80</text>
<text x="271.8" y="197.96" font-size="4.6" text-anchor="start" font-weight="normal" fill="#111">60</text>
<text x="271.8" y="213.44" font-size="4.6" text-anchor="start" font-weight="normal" fill="#111">40</text>
<text x="271.8" y="228.92000000000002" font-size="4.6" text-anchor="start" font-weight="normal" fill="#111">20</text>
<text x="271.8" y="244.4" font-size="4.6" text-anchor="start" font-weight="normal" fill="#111">0</text>
<text x="164.0" y="250.4" font-size="4.6" text-anchor="middle" font-weight="normal" fill="#111">0</text>
<text x="188.25" y="250.4" font-size="4.6" text-anchor="middle" font-weight="normal" fill="#111">1</text>
<text x="212.5" y="250.4" font-size="4.6" text-anchor="middle" font-weight="normal" fill="#111">2</text>
<text x="236.75" y="250.4" font-size="4.6" text-anchor="middle" font-weight="normal" fill="#111">3</text>
<text x="261.0" y="250.4" font-size="4.6" text-anchor="middle" font-weight="normal" fill="#111">4</text>
<text x="215.70000000000002" y="256.2" font-size="4.5" text-anchor="middle" font-weight="normal" fill="#111">depth (cm)</text>
<text x="149.70000000000002" y="203.9" font-size="5.3" text-anchor="middle" font-weight="normal" fill="#111" transform="rotate(-90 149.70000000000002 203.9)">Absorbed dose (%)</text>
<text x="283.0" y="203.6" font-size="5.3" text-anchor="middle" font-weight="normal" fill="#111" transform="rotate(-90 283.0 203.6)">Cluster dose (%)</text>
<path d="M165.0,208.0 165.6,207.9 166.2,207.8 166.8,207.6 167.4,207.5 168.0,207.4 168.6,207.3 169.2,207.1 169.8,207.0 170.5,206.9 171.1,206.7 171.7,206.6 172.3,206.5 172.9,206.3 173.5,206.2 174.1,206.0 174.7,205.9 175.3,205.8 175.9,205.6 176.5,205.5 177.1,205.3 177.7,205.2 178.3,205.0 178.9,204.9 179.5,204.7 180.2,204.6 180.8,204.4 181.4,204.3 182.0,204.1 182.6,203.9 183.2,203.8 183.8,203.6 184.4,203.5 185.0,203.3 185.6,203.1 186.2,203.0 186.8,202.8 187.4,202.6 188.0,202.5 188.6,202.3 189.2,202.1 189.8,202.0 190.5,201.8 191.1,201.6 191.7,201.4 192.3,201.2 192.9,201.1 193.5,200.9 194.1,200.7 194.7,200.5 195.3,200.3 195.9,200.1 196.5,199.9 197.1,199.7 197.7,199.5 198.3,199.3 198.9,199.1 199.5,198.9 200.2,198.7 200.8,198.5 201.4,198.3 202.0,198.1 202.6,197.9 203.2,197.7 203.8,197.4 204.4,197.2 205.0,197.0 205.6,196.8 206.2,196.6 206.8,196.3 207.4,196.1 208.0,195.9 208.6,195.6 209.2,195.4 209.8,195.2 210.4,194.9 211.0,194.7 211.6,194.4 212.2,194.2 212.8,193.9 213.4,193.7 214.0,193.4 214.6,193.1 215.2,192.8 215.8,192.5 216.4,192.2 217.0,191.9 217.6,191.6 218.2,191.3 218.8,191.0 219.4,190.6 220.0,190.3 220.6,189.9 221.2,189.5 221.8,189.1 222.5,188.7 223.1,188.3 223.7,187.8 224.3,187.3 224.9,186.8 225.5,186.3 226.2,185.7 226.8,185.2 227.4,184.6 228.0,184.0 228.7,183.3 229.3,182.5 230.0,181.7 230.7,180.8 231.3,179.9 232.0,179.0 232.7,178.1 233.3,177.3 234.0,176.4 234.7,175.5 235.3,174.5 236.0,173.5 236.3,172.9 236.7,172.3 237.1,171.6 237.4,170.8 237.8,170.1 238.1,169.4 238.4,168.7 238.8,168.1 239.5,167.0 240.0,166.3 240.5,165.7 241.0,165.2 241.5,165.0 242.1,165.0 242.7,165.0 243.3,165.1 243.9,165.1 244.5,165.2 245.1,165.3 245.8,165.4 246.4,165.5 247.0,165.6 247.6,165.7 248.2,165.7 248.8,165.8 249.4,165.9 250.0,166.0 250.6,166.1 251.2,166.1 251.8,166.2 252.5,166.3 253.1,166.4 253.7,166.4 254.3,166.5 254.9,166.6 255.5,166.7 256.1,166.7 256.8,166.8 257.4,166.9 258.0,167.0 258.6,167.0 259.2,167.1 259.8,167.2 260.5,167.3 261.1,167.3 261.7,167.4 262.3,167.5" fill="none" stroke="#1a1a1a" stroke-width="0.85" stroke-dasharray="1.4,0.9" stroke-linejoin="round"/>
<path d="M165.0,224.1 165.6,224.0 166.2,223.9 166.8,223.9 167.4,223.8 168.0,223.7 168.6,223.6 169.2,223.5 169.8,223.4 170.5,223.4 171.1,223.3 171.7,223.2 172.3,223.1 172.9,223.0 173.5,222.9 174.1,222.8 174.7,222.7 175.3,222.6 175.9,222.5 176.5,222.4 177.1,222.3 177.7,222.2 178.3,222.1 178.9,222.0 179.5,221.9 180.2,221.8 180.8,221.7 181.4,221.6 182.0,221.5 182.6,221.4 183.2,221.2 183.8,221.1 184.4,221.0 185.0,220.9 185.6,220.8 186.2,220.7 186.8,220.6 187.4,220.4 188.0,220.3 188.6,220.2 189.2,220.1 189.8,220.0 190.5,219.9 191.1,219.7 191.7,219.6 192.3,219.5 192.9,219.4 193.5,219.3 194.1,219.1 194.7,219.0 195.3,218.9 195.9,218.7 196.5,218.6 197.1,218.5 197.7,218.3 198.3,218.2 198.9,218.0 199.5,217.9 200.2,217.7 200.8,217.5 201.4,217.4 202.0,217.2 202.6,217.0 203.2,216.9 203.8,216.7 204.4,216.5 205.0,216.3 205.6,216.1 206.2,215.9 206.8,215.7 207.4,215.4 208.0,215.2 208.6,214.9 209.2,214.7 209.8,214.4 210.4,214.1 211.0,213.8 211.6,213.5 212.2,213.2 212.8,212.9 213.4,212.6 214.0,212.2 214.6,211.9 215.2,211.6 215.8,211.2 216.4,210.9 217.0,210.5 217.6,210.2 218.2,209.8 218.8,209.5 219.4,209.1 220.0,208.8 220.6,208.4 221.2,208.1 221.9,207.7 222.5,207.4 223.1,207.0 223.8,206.7 224.4,206.3 225.0,205.9 225.6,205.5 226.2,205.1 226.9,204.6 227.5,204.2 228.1,203.7 228.8,203.1 229.4,202.6 230.0,202.0 230.6,201.3 231.2,200.6 231.9,199.7 232.5,198.8 233.1,197.8 233.8,196.7 234.4,195.6 235.0,194.5 235.3,193.9 235.6,193.2 235.9,192.5 236.2,191.8 236.5,191.0 236.8,190.3 237.1,189.5 237.4,188.9 238.0,187.8 238.6,187.0 239.2,186.2 239.8,185.5 240.4,185.0 241.0,184.6 241.6,184.3 242.2,184.1 242.8,183.8 243.4,183.6 244.0,183.5 244.6,183.3 245.2,183.2 245.8,183.1 246.4,182.9 247.0,182.8 247.6,182.6 248.2,182.5 248.8,182.3 249.4,182.1 250.0,181.8 250.6,181.5 251.2,181.1 251.8,180.7 252.5,180.3 253.1,179.8 253.7,179.3 254.3,178.7 254.9,178.1 255.5,177.5 256.2,176.8 256.8,176.1 257.4,175.3 258.0,174.5 258.6,173.6 259.2,172.5 259.5,171.9 259.8,171.2 260.1,170.6 260.5,169.9 260.8,169.1 261.1,168.4 261.4,167.6 261.7,166.9 262.0,166.1 262.3,165.3" fill="none" stroke="#ff3030" stroke-width="1.1" stroke-linejoin="round"/>
<path d="M165.0,226.1 165.6,226.0 166.2,226.0 166.8,225.9 167.4,225.8 168.0,225.8 168.6,225.7 169.2,225.6 169.8,225.6 170.5,225.5 171.1,225.4 171.7,225.3 172.3,225.3 172.9,225.2 173.5,225.1 174.1,225.0 174.7,224.9 175.3,224.9 175.9,224.8 176.5,224.7 177.1,224.6 177.7,224.5 178.3,224.4 178.9,224.3 179.5,224.2 180.2,224.2 180.8,224.1 181.4,224.0 182.0,223.9 182.6,223.8 183.2,223.7 183.8,223.6 184.4,223.5 185.0,223.4 185.6,223.3 186.2,223.2 186.8,223.1 187.4,223.0 188.0,222.9 188.6,222.8 189.2,222.7 189.8,222.6 190.5,222.5 191.1,222.4 191.7,222.3 192.3,222.2 192.9,222.1 193.5,222.0 194.1,221.9 194.7,221.8 195.3,221.6 195.9,221.5 196.5,221.4 197.1,221.3 197.7,221.2 198.3,221.0 198.9,220.9 199.5,220.8 200.2,220.6 200.8,220.5 201.4,220.3 202.0,220.2 202.6,220.0 203.2,219.9 203.8,219.7 204.4,219.6 205.0,219.4 205.6,219.2 206.2,219.0 206.8,218.8 207.4,218.6 208.0,218.4 208.6,218.2 209.2,217.9 209.8,217.7 210.4,217.4 211.0,217.2 211.6,216.9 212.2,216.6 212.8,216.3 213.4,216.1 214.0,215.8 214.6,215.5 215.2,215.2 215.8,214.8 216.4,214.5 217.0,214.2 217.6,213.9 218.2,213.6 218.8,213.3 219.4,212.9 220.0,212.6 220.6,212.3 221.2,211.9 221.9,211.6 222.5,211.2 223.1,210.9 223.8,210.5 224.4,210.2 225.0,209.8 225.6,209.4 226.2,209.0 226.9,208.6 227.5,208.1 228.1,207.6 228.8,207.1 229.4,206.6 230.0,206.0 230.6,205.4 231.2,204.7 231.8,203.9 232.4,203.1 233.0,202.2 233.6,201.2 234.2,200.2 234.8,199.2 235.4,198.2 236.0,197.2 236.6,196.1 236.9,195.4 237.2,194.8 237.5,194.1 237.8,193.5 238.4,192.3 239.0,191.5 239.7,190.9 240.3,190.3 241.0,189.9 241.7,189.5 242.3,189.1 243.0,188.8 243.6,188.5 244.3,188.2 244.9,188.0 245.5,187.8 246.2,187.6 246.8,187.3 247.5,187.1 248.1,186.9 248.7,186.6 249.4,186.3 250.0,186.0 250.6,185.6 251.2,185.2 251.8,184.8 252.5,184.3 253.1,183.7 253.7,183.1 254.3,182.5 254.9,181.8 255.5,181.0 256.2,180.2 256.8,179.4 257.4,178.5 258.0,177.5 258.6,176.4 258.9,175.7 259.2,174.9 259.5,174.1 259.8,173.3 260.1,172.4 260.5,171.5 260.8,170.5 261.1,169.5 261.4,168.5 261.7,167.4 262.0,166.4 262.3,165.3" fill="none" stroke="#2a2aff" stroke-width="1.1" stroke-linejoin="round"/>
<path d="M165.0,228.8 165.6,228.7 166.2,228.7 166.8,228.6 167.4,228.5 168.0,228.5 168.6,228.4 169.2,228.3 169.8,228.2 170.5,228.1 171.1,228.1 171.7,228.0 172.3,227.9 172.9,227.8 173.5,227.7 174.1,227.7 174.7,227.6 175.3,227.5 175.9,227.4 176.5,227.3 177.1,227.2 177.7,227.1 178.3,227.1 178.9,227.0 179.5,226.9 180.2,226.8 180.8,226.7 181.4,226.6 182.0,226.5 182.6,226.4 183.2,226.3 183.8,226.2 184.4,226.1 185.0,226.0 185.6,225.9 186.2,225.8 186.8,225.7 187.4,225.6 188.0,225.5 188.6,225.4 189.2,225.3 189.8,225.2 190.5,225.1 191.1,225.0 191.7,224.9 192.3,224.8 192.9,224.7 193.5,224.6 194.1,224.4 194.7,224.3 195.3,224.2 195.9,224.1 196.5,224.0 197.1,223.9 197.7,223.7 198.3,223.6 198.9,223.5 199.5,223.3 200.2,223.2 200.8,223.1 201.4,222.9 202.0,222.8 202.6,222.6 203.2,222.5 203.8,222.3 204.4,222.2 205.0,222.0 205.6,221.8 206.2,221.7 206.8,221.5 207.4,221.3 208.0,221.1 208.6,220.8 209.2,220.6 209.8,220.4 210.4,220.2 211.0,219.9 211.6,219.7 212.2,219.4 212.8,219.2 213.4,218.9 214.0,218.6 214.6,218.4 215.2,218.1 215.8,217.8 216.4,217.5 217.0,217.2 217.6,217.0 218.2,216.7 218.8,216.4 219.4,216.1 220.0,215.8 220.6,215.5 221.2,215.2 221.8,214.9 222.4,214.7 223.1,214.4 223.7,214.1 224.3,213.8 224.9,213.5 225.5,213.2 226.1,212.9 226.7,212.5 227.3,212.2 227.9,211.8 228.6,211.4 229.2,211.0 229.8,210.5 230.4,210.0 231.0,209.5 231.6,208.9 232.2,208.1 232.8,207.3 233.4,206.3 234.0,205.3 234.6,204.2 235.2,203.1 235.8,202.0 236.4,201.0 237.0,200.0 237.6,199.0 238.2,197.9 238.8,196.8 239.4,195.9 240.0,195.2 240.7,194.6 241.3,194.1 242.0,193.7 242.7,193.3 243.3,192.9 244.0,192.6 244.6,192.3 245.2,192.0 245.8,191.8 246.4,191.6 247.0,191.4 247.6,191.1 248.2,190.9 248.8,190.6 249.4,190.3 250.0,190.0 250.6,189.6 251.2,189.2 251.8,188.7 252.5,188.2 253.1,187.6 253.7,187.0 254.3,186.4 254.9,185.6 255.5,184.9 256.2,184.0 256.8,183.1 257.4,182.1 258.0,181.0 258.3,180.4 258.6,179.7 258.9,178.8 259.2,177.9 259.5,176.9 259.8,175.8 260.1,174.6 260.5,173.4 260.7,172.5 260.9,171.7 261.1,170.8 261.3,169.9 261.5,169.0 261.7,168.1 261.9,167.2 262.1,166.2 262.3,165.3" fill="none" stroke="#2f9a2f" stroke-width="1.1" stroke-linejoin="round"/>
<path d="M262.30,165.30 L264.60,195.00 L266.30,241.30 L270.60,241.80" fill="none" stroke="#ff3030" stroke-width="1.0" stroke-linejoin="round"/>
<path d="M262.30,165.30 L264.60,195.00 L266.30,241.30 L270.60,241.80" fill="none" stroke="#2a2aff" stroke-width="1.0" stroke-linejoin="round"/>
<path d="M262.30,165.30 L264.60,195.00 L266.30,241.30 L270.60,241.80" fill="none" stroke="#2f9a2f" stroke-width="1.0" stroke-linejoin="round"/>
<path d="M262.30,165.30 L264.20,195.00 L266.00,241.30 L270.60,241.80" fill="none" stroke="#1a1a1a" stroke-width="0.85" stroke-dasharray="1.4,0.9" stroke-linejoin="round"/>
<rect x="303.7" y="161.0" width="110.90000000000003" height="84.30000000000001" fill="none" stroke="#cfcfcf" stroke-width="0.9"/>
<text x="358.9" y="157.2" font-size="7.8" text-anchor="middle" font-weight="normal" fill="#111" stroke="#111" stroke-width="0.35">C</text>
<text x="302.7" y="167.0" font-size="4.6" text-anchor="end" font-weight="normal" fill="#111">100</text>
<text x="302.7" y="182.48" font-size="4.6" text-anchor="end" font-weight="normal" fill="#111">80</text>
<text x="302.7" y="197.96" font-size="4.6" text-anchor="end" font-weight="normal" fill="#111">60</text>
<text x="302.7" y="213.44" font-size="4.6" text-anchor="end" font-weight="normal" fill="#111">40</text>
<text x="302.7" y="228.92000000000002" font-size="4.6" text-anchor="end" font-weight="normal" fill="#111">20</text>
<text x="302.7" y="244.4" font-size="4.6" text-anchor="end" font-weight="normal" fill="#111">0</text>
<text x="415.8" y="167.0" font-size="4.6" text-anchor="start" font-weight="normal" fill="#111">100</text>
<text x="415.8" y="182.48" font-size="4.6" text-anchor="start" font-weight="normal" fill="#111">80</text>
<text x="415.8" y="197.96" font-size="4.6" text-anchor="start" font-weight="normal" fill="#111">60</text>
<text x="415.8" y="213.44" font-size="4.6" text-anchor="start" font-weight="normal" fill="#111">40</text>
<text x="415.8" y="228.92000000000002" font-size="4.6" text-anchor="start" font-weight="normal" fill="#111">20</text>
<text x="415.8" y="244.4" font-size="4.6" text-anchor="start" font-weight="normal" fill="#111">0</text>
<text x="308.2" y="250.4" font-size="4.6" text-anchor="middle" font-weight="normal" fill="#111">0</text>
<text x="332.45" y="250.4" font-size="4.6" text-anchor="middle" font-weight="normal" fill="#111">1</text>
<text x="356.7" y="250.4" font-size="4.6" text-anchor="middle" font-weight="normal" fill="#111">2</text>
<text x="380.95" y="250.4" font-size="4.6" text-anchor="middle" font-weight="normal" fill="#111">3</text>
<text x="405.2" y="250.4" font-size="4.6" text-anchor="middle" font-weight="normal" fill="#111">4</text>
<text x="359.65" y="256.2" font-size="4.5" text-anchor="middle" font-weight="normal" fill="#111">depth (cm)</text>
<text x="293.59999999999997" y="203.9" font-size="5.3" text-anchor="middle" font-weight="normal" fill="#111" transform="rotate(-90 293.59999999999997 203.9)">Absorbed dose (%)</text>
<text x="427.0" y="203.6" font-size="5.3" text-anchor="middle" font-weight="normal" fill="#111" transform="rotate(-90 427.0 203.6)">Cluster dose (%)</text>
<path d="M309.0,206.9 309.6,206.8 310.2,206.7 310.8,206.5 311.4,206.4 312.0,206.3 312.6,206.2 313.2,206.1 313.8,205.9 314.4,205.8 315.0,205.7 315.6,205.6 316.2,205.5 316.8,205.3 317.4,205.2 318.0,205.1 318.6,205.0 319.2,204.8 319.8,204.7 320.4,204.6 321.0,204.5 321.6,204.3 322.2,204.2 322.8,204.1 323.4,203.9 324.0,203.8 324.6,203.7 325.2,203.6 325.8,203.4 326.4,203.3 327.0,203.2 327.6,203.0 328.2,202.9 328.8,202.8 329.4,202.6 330.0,202.5 330.6,202.4 331.2,202.2 331.8,202.1 332.4,202.0 333.0,201.8 333.6,201.7 334.2,201.6 334.8,201.5 335.5,201.3 336.1,201.2 336.7,201.1 337.3,200.9 337.9,200.8 338.5,200.7 339.1,200.5 339.7,200.4 340.3,200.3 340.9,200.1 341.5,200.0 342.1,199.9 342.7,199.7 343.3,199.6 343.9,199.4 344.5,199.3 345.2,199.1 345.8,199.0 346.4,198.8 347.0,198.7 347.6,198.5 348.2,198.3 348.8,198.2 349.4,198.0 350.0,197.8 350.6,197.6 351.2,197.4 351.9,197.2 352.5,197.0 353.1,196.8 353.8,196.5 354.4,196.3 355.0,196.1 355.6,195.8 356.2,195.6 356.9,195.3 357.5,195.1 358.1,194.8 358.8,194.5 359.4,194.3 360.0,194.0 360.6,193.7 361.2,193.5 361.9,193.2 362.5,192.9 363.1,192.6 363.8,192.3 364.4,192.1 365.0,191.8 365.6,191.5 366.2,191.1 366.9,190.8 367.5,190.5 368.1,190.1 368.8,189.8 369.4,189.4 370.0,189.0 370.6,188.6 371.2,188.2 371.8,187.8 372.4,187.3 373.0,186.8 373.6,186.3 374.2,185.8 374.8,185.2 375.4,184.6 376.0,184.0 376.6,183.3 377.3,182.5 377.9,181.6 378.6,180.6 379.2,179.6 379.9,178.6 380.5,177.5 380.9,176.9 381.2,176.2 381.5,175.4 381.9,174.7 382.2,173.9 382.6,173.1 383.0,172.3 383.3,171.5 383.6,170.7 384.0,170.0 384.3,169.4 384.6,168.7 384.9,168.0 385.1,167.3 385.7,166.2 386.3,165.5 387.1,165.1 388.0,164.9 388.6,164.9 389.2,164.9 389.8,164.9 390.4,164.9 391.0,164.9 391.6,164.9 392.2,164.9 392.8,164.9 393.4,164.9 394.0,164.9 394.6,164.9 395.2,164.9 395.8,164.9 396.4,164.9 397.1,164.9 397.7,164.9 398.3,164.9 398.9,164.9 399.5,164.9 400.1,164.9 400.7,164.9 401.3,164.9 401.9,164.9 402.5,164.9 403.1,164.9 403.7,164.9 404.3,164.9 404.9,164.9 405.5,164.9" fill="none" stroke="#1a1a1a" stroke-width="0.85" stroke-dasharray="1.4,0.9" stroke-linejoin="round"/>
<path d="M309.0,224.1 309.6,224.1 310.2,224.0 310.8,224.0 311.4,223.9 312.0,223.9 312.6,223.8 313.2,223.7 313.8,223.7 314.4,223.6 315.0,223.6 315.6,223.5 316.2,223.4 316.8,223.4 317.4,223.3 318.0,223.2 318.6,223.1 319.2,223.1 319.8,223.0 320.4,222.9 321.0,222.8 321.6,222.8 322.2,222.7 322.8,222.6 323.4,222.5 324.0,222.4 324.6,222.3 325.2,222.2 325.8,222.2 326.4,222.1 327.0,222.0 327.6,221.9 328.2,221.8 328.8,221.7 329.4,221.6 330.0,221.5 330.6,221.4 331.2,221.3 331.8,221.2 332.4,221.1 333.0,221.0 333.6,220.9 334.2,220.8 334.8,220.7 335.5,220.6 336.1,220.4 336.7,220.3 337.3,220.2 337.9,220.1 338.5,220.0 339.1,219.8 339.7,219.7 340.3,219.6 340.9,219.4 341.5,219.3 342.1,219.1 342.7,219.0 343.3,218.9 343.9,218.7 344.5,218.5 345.2,218.4 345.8,218.2 346.4,218.1 347.0,217.9 347.6,217.7 348.2,217.5 348.8,217.4 349.4,217.2 350.0,217.0 350.6,216.8 351.2,216.6 351.9,216.4 352.5,216.1 353.1,215.9 353.8,215.6 354.4,215.3 355.0,215.0 355.6,214.7 356.2,214.4 356.9,214.1 357.5,213.8 358.1,213.5 358.8,213.2 359.4,212.8 360.0,212.5 360.6,212.2 361.2,211.8 361.9,211.5 362.5,211.1 363.1,210.8 363.8,210.4 364.4,210.1 365.0,209.7 365.6,209.3 366.2,208.9 366.9,208.4 367.5,208.0 368.1,207.5 368.8,207.0 369.4,206.5 370.0,206.0 370.6,205.5 371.2,204.9 371.8,204.2 372.5,203.6 373.1,202.9 373.7,202.2 374.3,201.4 374.9,200.6 375.5,199.8 376.2,198.9 376.8,198.0 377.4,197.0 378.0,196.0 378.6,194.8 378.9,194.1 379.2,193.4 379.6,192.6 379.9,191.8 380.2,191.0 380.5,190.2 380.8,189.3 381.1,188.5 381.4,187.7 381.8,187.0 382.1,186.3 382.4,185.6 383.0,184.5 383.7,183.5 384.3,182.6 385.0,181.7 385.7,180.9 386.3,180.3 387.0,179.8 387.6,179.5 388.2,179.2 388.9,178.9 389.5,178.7 390.1,178.5 390.8,178.3 391.4,178.1 392.0,177.8 392.6,177.5 393.2,177.1 393.8,176.8 394.4,176.3 395.0,175.9 395.6,175.5 396.2,175.0 396.8,174.5 397.4,174.0 398.0,173.5 398.6,172.9 399.2,172.4 399.9,171.7 400.5,171.1 401.1,170.4 401.8,169.7 402.4,169.0 403.0,168.2 403.6,167.5 404.2,166.7 404.9,165.8 405.5,165.0" fill="none" stroke="#ff3030" stroke-width="1.1" stroke-linejoin="round"/>
<path d="M309.0,230.6 309.6,230.6 310.2,230.6 310.8,230.5 311.4,230.5 312.0,230.5 312.6,230.5 313.2,230.4 313.8,230.4 314.4,230.4 315.0,230.4 315.6,230.3 316.2,230.3 316.8,230.2 317.4,230.2 318.0,230.2 318.6,230.1 319.2,230.1 319.8,230.0 320.4,230.0 321.0,229.9 321.6,229.9 322.2,229.9 322.8,229.8 323.4,229.8 324.0,229.7 324.6,229.6 325.2,229.6 325.8,229.5 326.4,229.5 327.0,229.4 327.6,229.4 328.2,229.3 328.8,229.3 329.4,229.2 330.0,229.1 330.6,229.1 331.2,229.0 331.8,228.9 332.4,228.9 333.0,228.8 333.6,228.8 334.2,228.7 334.8,228.6 335.4,228.6 336.0,228.5 336.6,228.4 337.2,228.4 337.8,228.3 338.4,228.2 339.0,228.1 339.7,228.1 340.3,228.0 340.9,227.9 341.5,227.8 342.1,227.7 342.7,227.6 343.3,227.5 343.9,227.4 344.5,227.3 345.1,227.2 345.7,227.1 346.3,227.0 347.0,226.9 347.6,226.8 348.2,226.7 348.8,226.6 349.4,226.4 350.0,226.3 350.6,226.2 351.2,226.0 351.9,225.8 352.5,225.7 353.1,225.5 353.8,225.3 354.4,225.1 355.0,224.9 355.6,224.7 356.2,224.4 356.9,224.2 357.5,224.0 358.1,223.7 358.8,223.5 359.4,223.2 360.0,223.0 360.6,222.8 361.2,222.5 361.8,222.3 362.4,222.0 363.0,221.8 363.6,221.5 364.2,221.3 364.8,221.0 365.4,220.7 366.0,220.4 366.6,220.1 367.2,219.8 367.8,219.5 368.4,219.2 369.0,218.8 369.6,218.4 370.2,218.1 370.8,217.7 371.4,217.2 372.0,216.8 372.6,216.3 373.3,215.7 373.9,215.1 374.5,214.5 375.2,213.8 375.8,213.0 376.5,212.2 377.1,211.3 377.7,210.4 378.4,209.5 379.0,208.5 379.6,207.4 379.9,206.7 380.2,206.0 380.6,205.2 380.9,204.4 381.2,203.6 381.5,202.8 381.8,201.9 382.1,201.1 382.4,200.3 382.8,199.6 383.1,198.8 383.4,198.2 384.0,197.0 384.7,196.0 385.3,195.0 386.0,194.1 386.7,193.2 387.3,192.6 388.0,192.0 388.7,191.6 389.3,191.3 390.0,191.0 390.7,190.7 391.3,190.4 392.0,190.0 392.6,189.6 393.2,189.1 393.8,188.6 394.4,188.0 395.0,187.4 395.6,186.7 396.2,186.0 396.8,185.2 397.4,184.4 398.0,183.5 398.6,182.5 399.2,181.4 399.6,180.8 399.9,180.2 400.2,179.5 400.5,178.9 400.8,178.1 401.1,177.4 401.4,176.7 401.8,175.9 402.1,175.1 402.4,174.3 402.7,173.4 403.0,172.6 403.3,171.7 403.6,170.8 403.9,169.9 404.2,168.9 404.6,168.0 404.9,167.0 405.2,166.0 405.5,165.0" fill="none" stroke="#2a2aff" stroke-width="1.1" stroke-linejoin="round"/>
<path d="M309.0,235.2 309.6,235.2 310.2,235.2 310.8,235.2 311.4,235.1 312.0,235.1 312.6,235.1 313.2,235.1 313.8,235.0 314.4,235.0 315.0,235.0 315.6,235.0 316.2,234.9 316.8,234.9 317.4,234.9 318.0,234.8 318.6,234.8 319.2,234.8 319.8,234.7 320.4,234.7 321.0,234.6 321.6,234.6 322.2,234.5 322.8,234.5 323.4,234.5 324.0,234.4 324.6,234.4 325.2,234.3 325.8,234.3 326.4,234.2 327.0,234.2 327.6,234.1 328.2,234.0 328.8,234.0 329.4,233.9 330.0,233.9 330.6,233.8 331.2,233.8 331.8,233.7 332.4,233.7 333.0,233.6 333.6,233.5 334.2,233.5 334.8,233.4 335.4,233.4 336.0,233.3 336.6,233.2 337.2,233.2 337.8,233.1 338.4,233.0 339.0,233.0 339.6,232.9 340.2,232.8 340.8,232.8 341.4,232.7 342.0,232.6 342.6,232.5 343.2,232.4 343.8,232.3 344.4,232.3 345.0,232.2 345.6,232.1 346.2,232.0 346.8,231.9 347.4,231.8 348.0,231.7 348.6,231.6 349.2,231.5 349.8,231.4 350.4,231.3 351.0,231.2 351.6,231.1 352.2,230.9 352.8,230.8 353.4,230.7 354.0,230.6 354.6,230.5 355.2,230.4 355.8,230.2 356.4,230.1 357.0,230.0 357.6,229.8 358.2,229.7 358.8,229.6 359.4,229.4 360.0,229.3 360.6,229.2 361.2,229.0 361.9,228.8 362.5,228.7 363.1,228.5 363.8,228.3 364.4,228.1 365.0,227.9 365.6,227.7 366.2,227.5 366.9,227.3 367.5,227.1 368.1,226.8 368.8,226.6 369.4,226.3 370.0,226.0 370.6,225.7 371.3,225.4 371.9,225.0 372.5,224.6 373.2,224.2 373.8,223.8 374.5,223.3 375.1,222.8 375.7,222.2 376.4,221.6 377.0,221.0 377.7,220.2 378.3,219.2 379.0,218.0 379.3,217.4 379.7,216.7 380.0,216.1 380.3,215.4 380.7,214.7 381.0,214.0 381.3,213.2 381.7,212.4 382.0,211.5 382.3,210.5 382.7,209.5 383.0,208.5 383.3,207.5 383.7,206.5 384.0,205.6 384.3,204.8 384.7,204.1 385.0,203.5 385.7,202.5 386.3,201.6 387.0,200.9 387.7,200.2 388.3,199.6 389.0,199.0 389.6,198.5 390.2,198.2 390.9,197.8 391.5,197.5 392.1,197.2 392.8,196.8 393.4,196.5 394.0,196.0 394.7,195.4 395.3,194.8 396.0,194.1 396.7,193.4 397.3,192.5 398.0,191.5 398.7,190.3 399.0,189.7 399.3,189.0 399.7,188.2 400.0,187.4 400.3,186.5 400.7,185.6 401.0,184.6 401.3,183.6 401.7,182.6 402.0,181.5 402.2,180.7 402.5,179.9 402.7,179.0 402.9,178.0 403.2,177.0 403.4,176.0 403.6,174.9 403.9,173.8 404.1,172.6 404.3,171.7 404.5,170.8 404.6,169.9 404.8,168.9 405.0,168.0 405.1,167.0 405.3,166.0 405.5,165.0" fill="none" stroke="#2f9a2f" stroke-width="1.1" stroke-linejoin="round"/>
<path d="M405.60,165.00 L411.00,240.00 L414.60,240.40" fill="none" stroke="#333" stroke-width="0.8" stroke-linejoin="round"/>
<path d="M405.60,165.00 L411.00,240.00 L414.60,240.40" fill="none" stroke="#ff3030" stroke-width="1.0" stroke-linejoin="round"/>
<path d="M405.60,165.00 L411.00,240.00 L414.60,240.40" fill="none" stroke="#2a2aff" stroke-width="1.0" stroke-linejoin="round"/>
<path d="M405.60,165.00 L411.00,240.00 L414.60,240.40" fill="none" stroke="#2f9a2f" stroke-width="1.0" stroke-linejoin="round"/>
<rect x="446.6" y="161.0" width="111.69999999999993" height="84.30000000000001" fill="none" stroke="#cfcfcf" stroke-width="0.9"/>
<text x="501.6" y="157.2" font-size="7.8" text-anchor="middle" font-weight="normal" fill="#111" stroke="#111" stroke-width="0.35">O</text>
<text x="445.6" y="167.0" font-size="4.6" text-anchor="end" font-weight="normal" fill="#111">100</text>
<text x="445.6" y="182.48" font-size="4.6" text-anchor="end" font-weight="normal" fill="#111">80</text>
<text x="445.6" y="197.96" font-size="4.6" text-anchor="end" font-weight="normal" fill="#111">60</text>
<text x="445.6" y="213.44" font-size="4.6" text-anchor="end" font-weight="normal" fill="#111">40</text>
<text x="445.6" y="228.92000000000002" font-size="4.6" text-anchor="end" font-weight="normal" fill="#111">20</text>
<text x="445.6" y="244.4" font-size="4.6" text-anchor="end" font-weight="normal" fill="#111">0</text>
<text x="559.5" y="167.0" font-size="4.6" text-anchor="start" font-weight="normal" fill="#111">100</text>
<text x="559.5" y="182.48" font-size="4.6" text-anchor="start" font-weight="normal" fill="#111">80</text>
<text x="559.5" y="197.96" font-size="4.6" text-anchor="start" font-weight="normal" fill="#111">60</text>
<text x="559.5" y="213.44" font-size="4.6" text-anchor="start" font-weight="normal" fill="#111">40</text>
<text x="559.5" y="228.92000000000002" font-size="4.6" text-anchor="start" font-weight="normal" fill="#111">20</text>
<text x="559.5" y="244.4" font-size="4.6" text-anchor="start" font-weight="normal" fill="#111">0</text>
<text x="451.0" y="250.4" font-size="4.6" text-anchor="middle" font-weight="normal" fill="#111">0</text>
<text x="475.25" y="250.4" font-size="4.6" text-anchor="middle" font-weight="normal" fill="#111">1</text>
<text x="499.5" y="250.4" font-size="4.6" text-anchor="middle" font-weight="normal" fill="#111">2</text>
<text x="523.75" y="250.4" font-size="4.6" text-anchor="middle" font-weight="normal" fill="#111">3</text>
<text x="548.0" y="250.4" font-size="4.6" text-anchor="middle" font-weight="normal" fill="#111">4</text>
<text x="502.95" y="256.2" font-size="4.5" text-anchor="middle" font-weight="normal" fill="#111">depth (cm)</text>
<text x="436.5" y="203.9" font-size="5.3" text-anchor="middle" font-weight="normal" fill="#111" transform="rotate(-90 436.5 203.9)">Absorbed dose (%)</text>
<text x="570.6999999999999" y="203.6" font-size="5.3" text-anchor="middle" font-weight="normal" fill="#111" transform="rotate(-90 570.6999999999999 203.6)">Cluster dose (%)</text>
<path d="M453.0,207.5 453.6,207.5 454.2,207.4 454.8,207.4 455.4,207.3 456.0,207.3 456.6,207.2 457.2,207.2 457.8,207.1 458.4,207.1 459.0,207.0 459.6,206.9 460.2,206.9 460.8,206.8 461.4,206.7 462.0,206.6 462.6,206.6 463.2,206.5 463.8,206.4 464.4,206.3 465.0,206.2 465.6,206.1 466.2,206.0 466.8,205.9 467.4,205.8 468.0,205.7 468.6,205.6 469.2,205.5 469.8,205.4 470.4,205.3 471.0,205.2 471.6,205.1 472.2,205.0 472.8,204.9 473.4,204.7 474.0,204.6 474.6,204.5 475.2,204.4 475.8,204.3 476.4,204.1 477.0,204.0 477.6,203.9 478.2,203.8 478.8,203.7 479.4,203.5 480.0,203.4 480.6,203.3 481.2,203.1 481.8,203.0 482.4,202.9 483.0,202.7 483.6,202.6 484.2,202.4 484.8,202.3 485.4,202.1 486.0,201.9 486.6,201.8 487.2,201.6 487.8,201.4 488.4,201.3 489.0,201.1 489.6,200.9 490.2,200.7 490.8,200.5 491.4,200.3 492.0,200.1 492.6,199.9 493.2,199.7 493.8,199.5 494.4,199.3 495.0,199.1 495.6,198.8 496.2,198.6 496.8,198.4 497.4,198.1 498.0,197.9 498.6,197.7 499.2,197.4 499.8,197.2 500.4,196.9 501.0,196.7 501.6,196.4 502.2,196.1 502.8,195.9 503.4,195.6 504.0,195.3 504.6,195.0 505.2,194.7 505.8,194.4 506.4,194.0 507.1,193.7 507.7,193.3 508.3,193.0 508.9,192.6 509.5,192.2 510.1,191.8 510.7,191.3 511.3,190.9 511.9,190.4 512.6,189.9 513.2,189.5 513.8,189.0 514.4,188.4 515.0,187.9 515.6,187.3 516.2,186.7 516.9,186.0 517.5,185.3 518.1,184.6 518.8,183.8 519.4,182.9 520.0,182.0 520.7,180.9 521.0,180.3 521.3,179.7 521.7,179.0 522.0,178.3 522.3,177.6 522.7,176.9 523.0,176.1 523.3,175.4 523.7,174.7 524.0,174.0 524.3,173.3 524.6,172.6 524.9,171.9 525.2,171.2 525.5,170.4 525.8,169.7 526.1,169.1 526.4,168.5 527.0,167.5 527.6,166.8 528.2,166.0 528.8,165.5 529.4,165.1 530.0,164.9 530.6,164.9 531.2,164.9 531.8,164.9 532.4,164.9 533.0,164.9 533.6,164.9 534.2,164.9 534.9,164.9 535.5,164.9 536.1,164.9 536.7,164.9 537.3,164.9 537.9,164.9 538.5,164.9 539.1,164.9 539.7,164.9 540.3,164.9 540.9,164.9 541.5,164.9 542.1,164.9 542.8,164.9 543.4,164.9 544.0,164.9 544.6,164.9 545.2,164.9 545.8,164.9 546.4,164.9 547.0,164.9" fill="none" stroke="#1a1a1a" stroke-width="0.85" stroke-dasharray="1.4,0.9" stroke-linejoin="round"/>
<path d="M453.0,220.6 453.6,220.5 454.2,220.5 454.8,220.4 455.4,220.4 456.1,220.3 456.7,220.2 457.3,220.2 457.9,220.1 458.5,220.0 459.1,220.0 459.7,219.9 460.3,219.8 460.9,219.7 461.6,219.6 462.2,219.5 462.8,219.4 463.4,219.3 464.0,219.2 464.6,219.1 465.2,219.0 465.8,218.9 466.4,218.8 467.1,218.7 467.7,218.6 468.3,218.5 468.9,218.4 469.5,218.3 470.1,218.2 470.7,218.0 471.3,217.9 471.9,217.8 472.6,217.7 473.2,217.6 473.8,217.4 474.4,217.3 475.0,217.2 475.6,217.1 476.2,216.9 476.8,216.8 477.4,216.7 478.0,216.5 478.6,216.4 479.2,216.3 479.8,216.1 480.4,216.0 481.0,215.8 481.6,215.6 482.2,215.5 482.8,215.3 483.4,215.1 484.0,215.0 484.6,214.8 485.2,214.6 485.8,214.4 486.4,214.2 487.0,214.0 487.6,213.8 488.2,213.6 488.8,213.4 489.4,213.2 490.0,213.0 490.6,212.8 491.2,212.6 491.8,212.3 492.4,212.1 493.0,211.9 493.7,211.6 494.3,211.4 494.9,211.1 495.5,210.8 496.1,210.6 496.7,210.3 497.3,210.0 497.9,209.7 498.5,209.4 499.1,209.1 499.7,208.8 500.3,208.5 501.0,208.1 501.6,207.8 502.2,207.4 502.8,207.1 503.4,206.7 504.0,206.3 504.6,205.9 505.2,205.4 505.9,205.0 506.5,204.5 507.1,204.0 507.8,203.4 508.4,202.9 509.0,202.3 509.6,201.7 510.2,201.1 510.9,200.5 511.5,199.8 512.1,199.1 512.8,198.4 513.4,197.7 514.0,197.0 514.6,196.3 515.2,195.5 515.8,194.6 516.5,193.8 517.1,192.9 517.7,191.9 518.3,191.0 518.9,190.0 519.5,188.9 520.2,187.9 520.8,186.8 521.4,185.6 522.0,184.5 522.3,183.8 522.7,183.1 523.0,182.4 523.3,181.6 523.7,180.8 524.0,180.0 524.3,179.2 524.7,178.4 525.0,177.6 525.3,176.9 525.7,176.2 526.0,175.5 526.3,174.9 526.6,174.3 527.2,173.1 527.9,172.0 528.5,171.3 529.1,170.8 529.8,170.3 530.4,170.0 531.1,169.6 531.7,169.3 532.4,169.1 533.0,168.8 533.6,168.5 534.2,168.3 534.8,168.1 535.5,167.9 536.1,167.6 536.7,167.4 537.3,167.2 537.9,167.1 538.5,166.9 539.2,166.7 539.8,166.5 540.4,166.4 541.0,166.2 541.6,166.0 542.2,165.9 542.8,165.8 543.4,165.6 544.0,165.5 544.6,165.4 545.2,165.2 545.8,165.1 546.4,165.0 547.0,164.9" fill="none" stroke="#ff3030" stroke-width="1.1" stroke-linejoin="round"/>
<path d="M453.0,228.0 453.6,228.0 454.2,227.9 454.8,227.9 455.4,227.8 456.1,227.8 456.7,227.7 457.3,227.6 457.9,227.6 458.5,227.5 459.1,227.5 459.7,227.4 460.3,227.3 460.9,227.3 461.6,227.2 462.2,227.1 462.8,227.0 463.4,226.9 464.0,226.9 464.6,226.8 465.2,226.7 465.8,226.6 466.4,226.5 467.1,226.4 467.7,226.4 468.3,226.3 468.9,226.2 469.5,226.1 470.1,226.0 470.7,225.9 471.3,225.8 471.9,225.7 472.6,225.6 473.2,225.5 473.8,225.4 474.4,225.3 475.0,225.2 475.6,225.1 476.2,225.0 476.8,224.9 477.4,224.8 478.0,224.7 478.6,224.6 479.2,224.4 479.8,224.3 480.4,224.2 481.0,224.1 481.6,223.9 482.2,223.8 482.8,223.7 483.4,223.5 484.0,223.4 484.6,223.2 485.2,223.1 485.8,223.0 486.4,222.8 487.0,222.6 487.6,222.5 488.2,222.3 488.8,222.1 489.4,222.0 490.0,221.8 490.6,221.6 491.2,221.4 491.8,221.2 492.4,221.1 493.0,220.9 493.7,220.7 494.3,220.4 494.9,220.2 495.5,220.0 496.1,219.8 496.7,219.5 497.3,219.3 497.9,219.1 498.5,218.8 499.1,218.5 499.7,218.2 500.3,218.0 501.0,217.7 501.6,217.3 502.2,217.0 502.8,216.7 503.4,216.4 504.0,216.0 504.6,215.6 505.2,215.2 505.8,214.8 506.4,214.3 507.1,213.8 507.7,213.3 508.3,212.7 508.9,212.1 509.5,211.5 510.1,210.9 510.7,210.2 511.3,209.6 511.9,208.9 512.6,208.2 513.2,207.4 513.8,206.7 514.4,205.9 515.0,205.1 515.6,204.2 516.3,203.3 516.9,202.3 517.5,201.2 518.2,200.0 518.8,198.9 519.1,198.2 519.5,197.6 519.8,197.0 520.1,196.4 520.4,195.7 520.7,195.1 521.0,194.5 521.4,193.8 521.7,193.2 522.0,192.5 522.3,191.8 522.6,191.1 523.0,190.3 523.3,189.4 523.6,188.6 523.9,187.7 524.2,186.9 524.6,186.0 524.9,185.2 525.2,184.4 525.5,183.7 525.9,183.1 526.5,182.0 527.1,181.2 527.7,180.6 528.3,180.0 528.9,179.5 529.5,179.0 530.1,178.5 530.7,178.1 531.3,177.7 531.9,177.4 532.6,177.0 533.2,176.7 533.8,176.3 534.4,175.9 535.0,175.5 535.6,175.1 536.2,174.6 536.8,174.1 537.4,173.6 538.0,173.1 538.6,172.6 539.2,172.1 539.8,171.6 540.4,171.0 541.0,170.5 541.6,170.0 542.2,169.4 542.8,168.9 543.4,168.3 544.0,167.8 544.6,167.2 545.2,166.6 545.8,166.1 546.4,165.5 547.0,164.9" fill="none" stroke="#2a2aff" stroke-width="1.1" stroke-linejoin="round"/>
<path d="M453.0,233.7 453.6,233.7 454.2,233.7 454.8,233.7 455.4,233.7 456.1,233.6 456.7,233.6 457.3,233.6 457.9,233.6 458.5,233.5 459.1,233.5 459.7,233.5 460.3,233.4 460.9,233.4 461.6,233.3 462.2,233.3 462.8,233.2 463.4,233.2 464.0,233.1 464.6,233.1 465.2,233.0 465.8,233.0 466.4,232.9 467.1,232.9 467.7,232.8 468.3,232.7 468.9,232.7 469.5,232.6 470.1,232.5 470.7,232.5 471.3,232.4 471.9,232.3 472.6,232.3 473.2,232.2 473.8,232.1 474.4,232.1 475.0,232.0 475.6,231.9 476.2,231.9 476.8,231.8 477.4,231.7 478.0,231.6 478.6,231.5 479.2,231.4 479.8,231.3 480.4,231.2 481.0,231.1 481.6,231.0 482.2,230.9 482.8,230.7 483.4,230.6 484.0,230.5 484.6,230.4 485.2,230.2 485.8,230.1 486.4,230.0 487.0,229.8 487.6,229.7 488.2,229.5 488.8,229.4 489.4,229.2 490.0,229.1 490.6,228.9 491.2,228.8 491.8,228.6 492.4,228.4 493.0,228.3 493.7,228.1 494.3,227.9 494.9,227.7 495.5,227.5 496.1,227.3 496.7,227.1 497.3,226.9 497.9,226.6 498.5,226.4 499.1,226.2 499.7,226.0 500.3,225.7 501.0,225.5 501.6,225.3 502.2,225.0 502.8,224.8 503.4,224.5 504.0,224.3 504.6,224.0 505.2,223.8 505.9,223.5 506.5,223.3 507.1,223.0 507.8,222.7 508.4,222.5 509.0,222.2 509.6,221.9 510.2,221.6 510.9,221.3 511.5,220.9 512.1,220.6 512.8,220.2 513.4,219.9 514.0,219.5 514.6,219.1 515.2,218.7 515.9,218.3 516.5,217.9 517.1,217.4 517.8,216.8 518.4,216.2 519.0,215.5 519.7,214.5 520.0,213.9 520.3,213.3 520.7,212.6 521.0,211.8 521.3,211.1 521.7,210.2 522.0,209.4 522.3,208.6 522.7,207.8 523.0,207.0 523.3,206.2 523.7,205.3 524.0,204.4 524.3,203.5 524.7,202.5 525.0,201.5 525.3,200.6 525.7,199.7 526.0,198.8 526.3,197.9 526.7,197.2 527.0,196.5 527.3,195.9 527.7,195.3 528.3,194.1 529.0,193.1 529.7,192.1 530.3,191.3 531.0,190.5 531.6,189.9 532.2,189.4 532.9,188.9 533.5,188.5 534.1,188.0 534.8,187.6 535.4,187.1 536.0,186.5 536.6,185.8 537.2,185.1 537.9,184.3 538.5,183.5 539.1,182.6 539.8,181.6 540.4,180.6 541.0,179.5 541.6,178.4 542.2,177.2 542.5,176.6 542.8,175.9 543.1,175.3 543.4,174.6 543.7,173.9 544.0,173.1 544.3,172.4 544.6,171.6 544.9,170.8 545.2,170.0 545.5,169.2 545.8,168.4 546.1,167.5 546.4,166.7 546.7,165.8 547.0,164.9" fill="none" stroke="#2f9a2f" stroke-width="1.1" stroke-linejoin="round"/>
<path d="M547.10,164.90 L549.30,171.00 L551.30,192.00 L553.00,222.00 L554.50,238.50 L556.00,240.80 L558.30,241.30" fill="none" stroke="#2f9a2f" stroke-width="1.0" stroke-linejoin="round"/>
<path d="M547.10,164.90 L549.30,171.00 L551.30,192.00 L553.00,222.00 L554.50,238.50 L556.00,240.80 L558.30,241.30" fill="none" stroke="#ff3030" stroke-width="1.0" stroke-linejoin="round"/>
<path d="M547.10,164.90 L549.30,171.00 L551.30,192.00 L553.00,222.00 L554.50,238.50 L556.00,240.80 L558.30,241.30" fill="none" stroke="#2a2aff" stroke-width="1.0" stroke-linejoin="round"/>
<path d="M547.10,164.90 L549.30,171.00 L551.30,192.00 L553.00,222.00 L554.50,238.50 L556.00,240.80 L558.30,241.30" fill="none" stroke="#1a1a1a" stroke-width="0.85" stroke-dasharray="1.4,0.9" stroke-linejoin="round"/>
</svg>
</body></html>
